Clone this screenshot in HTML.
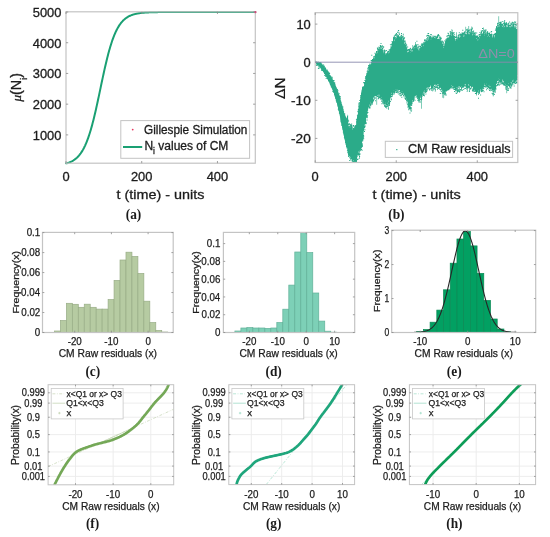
<!DOCTYPE html>
<html><head><meta charset="utf-8"><style>
html,body{margin:0;padding:0;background:#fff;}
svg{display:block;} text{stroke:#1c1c1c;stroke-width:0.3px;}
</style></head><body>
<svg width="550" height="537" viewBox="0 0 550 537" font-family="Liberation Sans, sans-serif">
<rect width="550" height="537" fill="#fff"/>
<polyline points="66.00,163.20 66.47,163.20 66.95,163.20 67.42,163.07 67.90,162.92 68.37,162.76 68.85,162.59 69.32,162.42 69.80,162.23 70.27,162.03 70.74,161.82 71.22,161.59 71.69,161.36 72.17,161.11 72.64,160.84 73.12,160.56 73.59,160.27 74.07,159.96 74.54,159.63 75.01,159.28 75.49,158.91 75.96,158.53 76.44,158.12 76.91,157.69 77.39,157.23 77.86,156.75 78.34,156.25 78.81,155.72 79.28,155.16 79.76,154.57 80.23,153.96 80.71,153.31 81.18,152.62 81.66,151.91 82.13,151.15 82.61,150.36 83.08,149.54 83.55,148.67 84.03,147.76 84.50,146.81 84.98,145.82 85.45,144.78 85.93,143.70 86.40,142.57 86.88,141.39 87.35,140.17 87.82,138.89 88.30,137.57 88.77,136.19 89.25,134.77 89.72,133.29 90.20,131.76 90.67,130.18 91.15,128.55 91.62,126.87 92.09,125.14 92.57,123.36 93.04,121.53 93.52,119.66 93.99,117.74 94.47,115.78 94.94,113.77 95.42,111.73 95.89,109.66 96.36,107.54 96.84,105.40 97.31,103.23 97.79,101.04 98.26,98.83 98.74,96.59 99.21,94.35 99.68,92.10 100.16,89.84 100.63,87.58 101.11,85.32 101.58,83.06 102.06,80.82 102.53,78.59 103.01,76.38 103.48,74.19 103.95,72.02 104.43,69.88 104.90,67.77 105.38,65.70 105.85,63.66 106.33,61.66 106.80,59.70 107.28,57.79 107.75,55.91 108.22,54.09 108.70,52.32 109.17,50.59 109.65,48.91 110.12,47.29 110.60,45.71 111.07,44.19 111.55,42.71 112.02,41.29 112.49,39.92 112.97,38.60 113.44,37.33 113.92,36.11 114.39,34.94 114.87,33.81 115.34,32.73 115.82,31.70 116.29,30.71 116.76,29.76 117.24,28.86 117.71,27.99 118.19,27.17 118.66,26.38 119.14,25.63 119.61,24.92 120.09,24.24 120.56,23.59 121.03,22.98 121.51,22.39 121.98,21.83 122.46,21.31 122.93,20.80 123.41,20.33 123.88,19.88 124.36,19.45 124.83,19.04 125.30,18.66 125.78,18.29 126.25,17.94 126.73,17.62 127.20,17.31 127.68,17.01 128.15,16.74 128.63,16.47 129.10,16.22 129.57,15.99 130.05,15.77 130.52,15.56 131.00,15.36 131.47,15.17 131.95,14.99 132.42,14.82 132.90,14.66 133.37,14.51 133.84,14.37 134.32,14.24 134.79,14.11 135.27,13.99 135.74,13.88 136.22,13.77 136.69,13.67 137.17,13.58 137.64,13.49 138.11,13.41 138.59,13.33 139.06,13.25 139.54,13.18 140.01,13.11 140.49,13.05 140.96,12.99 141.44,12.93 141.91,12.88 142.38,12.83 142.86,12.78 143.33,12.74 143.81,12.70 144.28,12.66 144.76,12.62 145.23,12.58 145.71,12.55 146.18,12.52 146.65,12.49 147.13,12.46 147.60,12.44 148.08,12.41 148.55,12.39 149.03,12.37 149.50,12.34 149.98,12.32 150.45,12.31 150.92,12.29 151.40,12.27 151.87,12.26 152.35,12.24 152.82,12.23 153.30,12.22 153.77,12.20 154.25,12.19 154.72,12.18 155.19,12.17 155.67,12.16 156.14,12.15 156.62,12.14 157.09,12.13 157.57,12.13 158.04,12.12 158.52,12.11 158.99,12.11 159.46,12.10 159.94,12.09 160.41,12.09 160.89,12.08 161.36,12.08 161.84,12.07 162.31,12.07 162.78,12.07 163.26,12.06 163.73,12.06 164.21,12.06 164.68,12.05 165.16,12.05 165.63,12.05 166.11,12.04 166.58,12.04 167.05,12.04 167.53,12.04 168.00,12.03 168.48,12.03 168.95,12.03 169.43,12.03 169.90,12.03 170.38,12.03 170.85,12.02 171.32,12.02 171.80,12.02 172.27,12.02 172.75,12.02 173.22,12.02 173.70,12.02 174.17,12.02 174.65,12.02 175.12,12.01 175.59,12.01 176.07,12.01 176.54,12.01 177.02,12.01 177.49,12.01 177.97,12.01 178.44,12.01 178.92,12.01 179.39,12.01 179.86,12.01 180.34,12.01 180.81,12.01 181.29,12.01 181.76,12.01 182.24,12.01 182.71,12.01 183.19,12.01 183.66,12.00 184.13,12.00 184.61,12.00 185.08,12.00 185.56,12.00 186.03,12.00 186.51,12.00 186.98,12.00 187.46,12.00 187.93,12.00 188.40,12.00 188.88,12.00 189.35,12.00 189.83,12.00 190.30,12.00 190.78,12.00 191.25,12.00 191.73,12.00 192.20,12.00 192.67,12.00 193.15,12.00 193.62,12.00 194.10,12.00 194.57,12.00 195.05,12.00 195.52,12.00 196.00,12.00 196.47,12.00 196.94,12.00 197.42,12.00 197.89,12.00 198.37,12.00 198.84,12.00 199.32,12.00 199.79,12.00 200.27,12.00 200.74,12.00 201.21,12.00 201.69,12.00 202.16,12.00 202.64,12.00 203.11,12.00 203.59,12.00 204.06,12.00 204.54,12.00 205.01,12.00 205.48,12.00 205.96,12.00 206.43,12.00 206.91,12.00 207.38,12.00 207.86,12.00 208.33,12.00 208.81,12.00 209.28,12.00 209.75,12.00 210.23,12.00 210.70,12.00 211.18,12.00 211.65,12.00 212.13,12.00 212.60,12.00 213.08,12.00 213.55,12.00 214.02,12.00 214.50,12.00 214.97,12.00 215.45,12.00 215.92,12.00 216.40,12.00 216.87,12.00 217.35,12.00 217.82,12.00 218.29,12.00 218.77,12.00 219.24,12.00 219.72,12.00 220.19,12.00 220.67,12.00 221.14,12.00 221.62,12.00 222.09,12.00 222.56,12.00 223.04,12.00 223.51,12.00 223.99,12.00 224.46,12.00 224.94,12.00 225.41,12.00 225.88,12.00 226.36,12.00 226.83,12.00 227.31,12.00 227.78,12.00 228.26,12.00 228.73,12.00 229.21,12.00 229.68,12.00 230.15,12.00 230.63,12.00 231.10,12.00 231.58,12.00 232.05,12.00 232.53,12.00 233.00,12.00 233.48,12.00 233.95,12.00 234.42,12.00 234.90,12.00 235.37,12.00 235.85,12.00 236.32,12.00 236.80,12.00 237.27,12.00 237.75,12.00 238.22,12.00 238.69,12.00 239.17,12.00 239.64,12.00 240.12,12.00 240.59,12.00 241.07,12.00 241.54,12.00 242.02,12.00 242.49,12.00 242.96,12.00 243.44,12.00 243.91,12.00 244.39,12.00 244.86,12.00 245.34,12.00 245.81,12.00 246.29,12.00 246.76,12.00 247.23,12.00 247.71,12.00 248.18,12.00 248.66,12.00 249.13,12.00 249.61,12.00 250.08,12.00 250.56,12.00 251.03,12.00 251.50,12.00 251.98,12.00 252.45,12.00 252.93,12.00 253.40,12.00 253.88,12.00 254.35,12.00 254.83,12.00 255.30,12.00" fill="none" stroke="#1aa073" stroke-width="2.0" stroke-linejoin="round" stroke-linecap="round" />
<rect x="66.00" y="11.80" width="189.30" height="151.40" fill="none" stroke="#c4c4c4" stroke-width="1.2"/>
<circle cx="255.4" cy="12.2" r="1.1" fill="#e0407a"/>
<line x1="66.00" y1="163.20" x2="66.00" y2="161.00" stroke="#8a8a8a" stroke-width="0.8" />
<line x1="66.00" y1="11.80" x2="66.00" y2="14.00" stroke="#8a8a8a" stroke-width="0.8" />
<line x1="141.72" y1="163.20" x2="141.72" y2="161.00" stroke="#8a8a8a" stroke-width="0.8" />
<line x1="141.72" y1="11.80" x2="141.72" y2="14.00" stroke="#8a8a8a" stroke-width="0.8" />
<line x1="217.44" y1="163.20" x2="217.44" y2="161.00" stroke="#8a8a8a" stroke-width="0.8" />
<line x1="217.44" y1="11.80" x2="217.44" y2="14.00" stroke="#8a8a8a" stroke-width="0.8" />
<line x1="66.00" y1="134.88" x2="68.20" y2="134.88" stroke="#8a8a8a" stroke-width="0.8" />
<line x1="255.30" y1="134.88" x2="253.10" y2="134.88" stroke="#8a8a8a" stroke-width="0.8" />
<line x1="66.00" y1="104.16" x2="68.20" y2="104.16" stroke="#8a8a8a" stroke-width="0.8" />
<line x1="255.30" y1="104.16" x2="253.10" y2="104.16" stroke="#8a8a8a" stroke-width="0.8" />
<line x1="66.00" y1="73.44" x2="68.20" y2="73.44" stroke="#8a8a8a" stroke-width="0.8" />
<line x1="255.30" y1="73.44" x2="253.10" y2="73.44" stroke="#8a8a8a" stroke-width="0.8" />
<line x1="66.00" y1="42.72" x2="68.20" y2="42.72" stroke="#8a8a8a" stroke-width="0.8" />
<line x1="255.30" y1="42.72" x2="253.10" y2="42.72" stroke="#8a8a8a" stroke-width="0.8" />
<line x1="66.00" y1="12.00" x2="68.20" y2="12.00" stroke="#8a8a8a" stroke-width="0.8" />
<line x1="255.30" y1="12.00" x2="253.10" y2="12.00" stroke="#8a8a8a" stroke-width="0.8" />
<text x="61.45" y="139.88" font-size="12.4" textLength="28.69" lengthAdjust="spacingAndGlyphs" text-anchor="end" fill="#1c1c1c" >1000</text>
<text x="61.45" y="109.16" font-size="12.4" textLength="28.69" lengthAdjust="spacingAndGlyphs" text-anchor="end" fill="#1c1c1c" >2000</text>
<text x="61.45" y="78.44" font-size="12.4" textLength="28.69" lengthAdjust="spacingAndGlyphs" text-anchor="end" fill="#1c1c1c" >3000</text>
<text x="61.45" y="47.72" font-size="12.4" textLength="28.69" lengthAdjust="spacingAndGlyphs" text-anchor="end" fill="#1c1c1c" >4000</text>
<text x="61.45" y="17.00" font-size="12.4" textLength="28.69" lengthAdjust="spacingAndGlyphs" text-anchor="end" fill="#1c1c1c" >5000</text>
<text x="66.00" y="181.00" font-size="12.4" textLength="7.17" lengthAdjust="spacingAndGlyphs" text-anchor="middle" fill="#1c1c1c" >0</text>
<text x="141.72" y="181.00" font-size="12.4" textLength="21.52" lengthAdjust="spacingAndGlyphs" text-anchor="middle" fill="#1c1c1c" >200</text>
<text x="217.44" y="181.00" font-size="12.4" textLength="21.52" lengthAdjust="spacingAndGlyphs" text-anchor="middle" fill="#1c1c1c" >400</text>
<text x="116.58" y="198.90" font-size="13.2" textLength="87.75" lengthAdjust="spacingAndGlyphs" fill="#1c1c1c" font-family="Liberation Sans"  >t (time) - units</text>
<text transform="translate(21.0,101.6) rotate(-90)" font-size="14.3" fill="#1c1c1c"><tspan font-family="Liberation Serif" font-style="italic" font-size="13.2">μ</tspan><tspan>(N</tspan><tspan font-size="9.6" dy="6.0">i</tspan><tspan dy="-6.0">)</tspan></text>
<rect x="120.8" y="120.6" width="128.8" height="37.7" fill="#fff" stroke="#c4c4c4" stroke-width="1"/>
<circle cx="132.7" cy="129.6" r="0.9" fill="#e8365f"/>
<line x1="123.00" y1="147.00" x2="142.20" y2="147.00" stroke="#1aa073" stroke-width="2.0" />
<text x="144.01" y="133.80" font-size="12.0" textLength="103.38" lengthAdjust="spacingAndGlyphs" fill="#1c1c1c" font-family="Liberation Sans"  >Gillespie Simulation</text>
<text x="144.4" y="149.6" font-size="12.0" fill="#1c1c1c">N<tspan font-size="8.5" dy="4.2">i</tspan><tspan dy="-4.2"> values of CM</tspan></text>
<text x="133.50" y="219.10" font-size="14.7" textLength="15.60" lengthAdjust="spacingAndGlyphs" text-anchor="middle" font-family="Liberation Serif" font-weight="bold" fill="#1a1a1a" style="stroke:none">(a)</text>
<clipPath id="cb"><rect x="315.2" y="12.7" width="202.6" height="149.8"/></clipPath><g clip-path="url(#cb)">
<polygon points="315.0,62.2 315.5,62.3 316.0,62.5 316.5,62.6 317.0,62.8 317.5,62.9 318.0,63.0 318.5,63.2 319.0,63.3 319.5,63.5 320.0,63.6 320.5,64.1 321.0,64.6 321.5,65.1 322.0,65.6 322.5,66.1 323.0,66.6 323.5,67.1 324.0,67.6 324.5,68.1 325.0,68.6 325.5,69.3 326.0,70.0 326.5,70.7 327.0,71.4 327.5,72.1 328.0,72.8 328.5,73.5 329.0,74.2 329.5,74.9 330.0,75.6 330.5,76.5 331.0,77.3 331.5,78.2 332.0,79.1 332.5,80.0 333.0,80.8 333.5,81.7 334.0,82.6 334.5,83.8 335.0,85.1 335.5,86.3 336.0,87.6 336.5,88.8 337.0,90.1 337.5,91.6 338.0,93.1 338.5,94.6 339.0,96.1 339.5,97.6 340.0,99.3 340.5,101.0 341.0,102.7 341.5,104.4 342.0,106.1 342.5,108.0 343.0,109.8 343.5,111.7 344.0,113.6 344.5,114.8 345.0,116.1 345.5,117.3 346.0,118.6 346.5,119.8 347.0,123.5 347.5,124.8 348.0,126.0 348.5,126.8 349.0,127.5 349.5,128.2 350.0,129.0 350.5,129.2 351.0,129.5 351.5,129.8 352.0,130.0 352.5,130.2 353.0,130.5 353.5,130.0 354.0,129.5 354.5,129.0 355.0,127.9 355.5,126.8 356.0,125.7 356.5,122.5 357.0,119.4 357.5,116.2 358.0,113.0 358.5,109.9 359.0,106.7 359.5,104.3 360.0,102.0 360.5,99.6 361.0,97.2 361.5,94.9 362.0,92.5 362.5,90.9 363.0,89.2 363.5,87.6 364.0,85.9 364.5,84.2 365.0,82.3 365.5,80.5 366.0,78.7 366.5,77.0 367.0,75.3 367.5,73.6 368.0,71.9 368.5,70.6 369.0,69.6 369.5,68.6 370.0,67.6 370.5,66.6 371.0,65.6 371.5,64.6 372.0,63.6 372.5,62.6 373.0,61.6 373.5,60.6 374.0,59.6 374.5,58.7 375.0,57.7 375.5,56.7 376.0,55.7 376.5,54.7 377.0,53.7 377.5,52.7 378.0,51.7 378.5,50.7 379.0,49.7 379.5,48.7 380.0,49.1 380.5,49.4 381.0,49.8 381.5,50.1 382.0,50.4 382.5,50.8 383.0,51.8 383.5,52.8 384.0,53.8 384.5,54.7 385.0,55.7 385.5,56.7 386.0,56.6 386.5,56.3 387.0,56.0 387.5,55.7 388.0,55.4 388.5,55.0 389.0,54.1 389.5,52.7 390.0,51.3 390.5,50.0 391.0,48.6 391.5,47.2 392.0,46.1 392.5,45.1 393.0,44.1 393.5,43.1 394.0,42.1 394.5,41.1 395.0,40.4 395.5,40.2 396.0,39.9 396.5,39.7 397.0,39.4 397.5,39.2 398.0,38.9 398.5,38.7 399.0,38.5 399.5,38.8 400.0,39.0 400.5,39.3 401.0,39.5 401.5,39.8 402.0,40.0 402.5,40.3 403.0,40.5 403.5,42.0 404.0,43.5 404.5,45.0 405.0,46.5 405.5,48.0 406.0,49.5 406.5,51.0 407.0,52.5 407.5,52.8 408.0,52.8 408.5,52.8 409.0,52.8 409.5,52.8 410.0,52.8 410.5,52.8 411.0,52.8 411.5,52.5 412.0,51.9 412.5,51.4 413.0,50.9 413.5,50.3 414.0,49.8 414.5,49.2 415.0,48.7 415.5,49.0 416.0,49.4 416.5,49.7 417.0,50.1 417.5,50.4 418.0,50.7 418.5,51.1 419.0,51.4 419.5,51.0 420.0,50.4 420.5,49.9 421.0,49.3 421.5,48.7 422.0,48.1 422.5,47.5 423.0,46.9 423.5,46.2 424.0,45.5 424.5,44.7 425.0,44.0 425.5,43.2 426.0,42.5 426.5,41.7 427.0,41.0 427.5,40.5 428.0,40.5 428.5,40.5 429.0,40.5 429.5,40.5 430.0,40.5 430.5,40.5 431.0,40.5 431.5,40.5 432.0,40.5 432.5,40.5 433.0,40.5 433.5,40.5 434.0,40.5 434.5,40.5 435.0,40.5 435.5,40.5 436.0,40.5 436.5,40.5 437.0,40.5 437.5,40.5 438.0,40.5 438.5,40.5 439.0,40.5 439.5,40.5 440.0,41.3 440.5,42.3 441.0,43.3 441.5,44.3 442.0,45.3 442.5,46.3 443.0,47.3 443.5,48.3 444.0,48.0 444.5,46.7 445.0,45.5 445.5,44.2 446.0,43.0 446.5,41.7 447.0,40.5 447.5,39.2 448.0,38.4 448.5,38.1 449.0,37.9 449.5,37.6 450.0,37.4 450.5,37.1 451.0,36.9 451.5,36.6 452.0,36.6 452.5,37.3 453.0,38.1 453.5,38.8 454.0,39.6 454.5,40.3 455.0,41.1 455.5,41.8 456.0,42.6 456.5,42.1 457.0,41.6 457.5,41.1 458.0,40.6 458.5,40.1 459.0,39.6 459.5,39.1 460.0,38.6 460.5,38.3 461.0,38.0 461.5,37.8 462.0,37.5 462.5,37.2 463.0,37.0 463.5,36.7 464.0,36.5 464.5,36.2 465.0,36.0 465.5,35.7 466.0,35.5 466.5,35.2 467.0,35.0 467.5,34.7 468.0,34.5 468.5,34.4 469.0,34.5 469.5,34.6 470.0,34.7 470.5,34.7 471.0,34.8 471.5,34.9 472.0,35.0 472.5,35.3 473.0,35.9 473.5,36.6 474.0,37.3 474.5,37.9 475.0,38.6 475.5,39.3 476.0,40.0 476.5,40.6 477.0,41.3 477.5,41.4 478.0,40.6 478.5,39.9 479.0,39.1 479.5,38.4 480.0,37.6 480.5,36.9 481.0,36.1 481.5,35.5 482.0,35.5 482.5,35.5 483.0,35.5 483.5,35.5 484.0,35.5 484.5,35.5 485.0,35.5 485.5,35.5 486.0,35.8 486.5,36.0 487.0,36.3 487.5,36.5 488.0,36.8 488.5,37.0 489.0,37.3 489.5,37.5 490.0,37.8 490.5,38.0 491.0,38.3 491.5,38.5 492.0,38.8 492.5,39.0 493.0,39.3 493.5,39.5 494.0,38.7 494.5,37.2 495.0,35.7 495.5,34.2 496.0,32.7 496.5,31.2 497.0,29.7 497.5,28.2 498.0,27.3 498.5,27.3 499.0,27.3 499.5,27.3 500.0,27.3 500.5,27.3 501.0,27.3 501.5,27.3 502.0,27.3 502.5,27.3 503.0,27.3 503.5,27.3 504.0,27.3 504.5,27.3 505.0,27.3 505.5,27.3 506.0,27.3 506.5,27.3 507.0,27.3 507.5,27.3 508.0,27.3 508.5,27.3 509.0,27.3 509.5,27.3 510.0,27.3 510.5,27.3 511.0,27.3 511.5,27.3 512.0,27.3 512.5,27.3 513.0,27.3 513.5,27.3 514.0,27.3 514.5,27.5 515.0,27.8 515.5,28.1 516.0,28.4 516.5,28.7 517.0,28.9 517.5,29.2 517.5,74.9 517.0,75.5 516.5,76.0 516.0,76.6 515.5,77.1 515.0,77.7 514.5,78.3 514.0,78.8 513.5,79.3 513.0,79.8 512.5,80.3 512.0,80.9 511.5,81.4 511.0,81.9 510.5,82.4 510.0,82.8 509.5,83.1 509.0,83.3 508.5,83.6 508.0,83.8 507.5,84.1 507.0,84.3 506.5,84.6 506.0,84.8 505.5,84.1 505.0,83.3 504.5,82.6 504.0,81.8 503.5,81.1 503.0,80.3 502.5,79.6 502.0,78.8 501.5,78.7 501.0,78.7 500.5,78.7 500.0,78.7 499.5,78.7 499.0,78.7 498.5,78.7 498.0,78.7 497.5,79.6 497.0,81.1 496.5,82.6 496.0,84.1 495.5,85.6 495.0,87.1 494.5,88.6 494.0,90.1 493.5,90.7 493.0,89.9 492.5,89.2 492.0,88.4 491.5,87.7 491.0,86.9 490.5,86.2 490.0,85.4 489.5,84.8 489.0,84.5 488.5,84.3 488.0,84.0 487.5,83.8 487.0,83.5 486.5,83.3 486.0,83.0 485.5,82.8 485.0,83.3 484.5,83.8 484.0,84.3 483.5,84.8 483.0,85.3 482.5,85.8 482.0,86.3 481.5,86.8 481.0,87.3 480.5,87.8 480.0,88.3 479.5,88.8 479.0,89.3 478.5,89.8 478.0,90.3 477.5,90.8 477.0,90.7 476.5,90.2 476.0,89.7 475.5,89.2 475.0,88.7 474.5,88.2 474.0,87.7 473.5,87.2 473.0,86.7 472.5,86.2 472.0,85.8 471.5,85.4 471.0,85.0 470.5,84.7 470.0,84.3 469.5,84.0 469.0,83.6 468.5,83.2 468.0,83.0 467.5,83.2 467.0,83.3 466.5,83.4 466.0,83.5 465.5,83.7 465.0,83.8 464.5,83.9 464.0,84.0 463.5,84.3 463.0,84.5 462.5,84.7 462.0,84.9 461.5,85.1 461.0,85.3 460.5,85.5 460.0,85.8 459.5,86.0 459.0,86.3 458.5,86.5 458.0,86.8 457.5,87.0 457.0,87.3 456.5,87.5 456.0,87.8 455.5,87.3 455.0,86.8 454.5,86.3 454.0,85.8 453.5,85.3 453.0,84.8 452.5,84.3 452.0,83.8 451.5,83.9 451.0,84.1 450.5,84.4 450.0,84.6 449.5,84.9 449.0,85.1 448.5,85.4 448.0,85.6 447.5,86.2 447.0,86.9 446.5,87.7 446.0,88.4 445.5,89.2 445.0,89.9 444.5,90.7 444.0,91.4 443.5,91.5 443.0,90.5 442.5,89.5 442.0,88.5 441.5,87.5 441.0,86.5 440.5,85.5 440.0,84.5 439.5,83.7 439.0,83.7 438.5,83.7 438.0,83.7 437.5,83.7 437.0,83.7 436.5,83.7 436.0,83.7 435.5,83.7 435.0,83.9 434.5,84.2 434.0,84.4 433.5,84.7 433.0,84.9 432.5,85.2 432.0,85.4 431.5,85.7 431.0,85.5 430.5,85.3 430.0,85.0 429.5,84.8 429.0,84.5 428.5,84.3 428.0,84.0 427.5,83.8 427.0,84.3 426.5,85.3 426.0,86.3 425.5,87.3 425.0,88.3 424.5,89.3 424.0,90.3 423.5,91.3 423.0,92.2 422.5,92.9 422.0,93.7 421.5,94.4 421.0,95.2 420.5,95.9 420.0,96.7 419.5,97.4 419.0,97.9 418.5,97.3 418.0,96.7 417.5,96.0 417.0,95.4 416.5,94.8 416.0,94.2 415.5,93.6 415.0,93.0 414.5,94.2 414.0,95.4 413.5,96.6 413.0,97.7 412.5,98.9 412.0,100.1 411.5,101.3 411.0,102.6 410.5,104.2 410.0,105.8 409.5,107.4 409.0,107.5 408.5,105.5 408.0,103.6 407.5,101.6 407.0,99.8 406.5,98.8 406.0,97.8 405.5,96.8 405.0,95.9 404.5,94.9 404.0,93.9 403.5,92.9 403.0,91.9 402.5,91.6 402.0,91.4 401.5,91.1 401.0,90.9 400.5,90.6 400.0,90.4 399.5,90.1 399.0,89.9 398.5,89.6 398.0,89.4 397.5,89.1 397.0,88.9 396.5,88.6 396.0,88.4 395.5,88.1 395.0,87.9 394.5,88.2 394.0,88.9 393.5,89.6 393.0,90.2 392.5,90.9 392.0,91.6 391.5,92.6 391.0,94.1 390.5,95.6 390.0,97.1 389.5,98.6 389.0,100.1 388.5,101.1 388.0,101.5 387.5,101.8 387.0,102.1 386.5,102.4 386.0,102.7 385.5,102.8 385.0,102.0 384.5,101.2 384.0,100.4 383.5,99.6 383.0,98.8 382.5,98.0 382.0,97.2 381.5,96.5 381.0,95.8 380.5,95.0 380.0,94.2 379.5,93.5 379.0,93.2 378.5,93.0 378.0,92.7 377.5,92.5 377.0,92.2 376.5,92.0 376.0,92.5 375.5,93.2 375.0,94.0 374.5,94.7 374.0,95.5 373.5,96.2 373.0,97.0 372.5,97.7 372.0,98.6 371.5,99.6 371.0,100.5 370.5,101.5 370.0,102.5 369.5,103.5 369.0,104.4 368.5,105.4 368.0,106.9 367.5,109.1 367.0,111.4 366.5,113.6 366.0,116.0 365.5,118.3 365.0,120.7 364.5,123.1 364.0,125.8 363.5,129.9 363.0,133.9 362.5,138.0 362.0,142.0 361.5,143.3 361.0,144.7 360.5,146.0 360.0,147.3 359.5,148.7 359.0,150.0 358.5,151.3 358.0,152.7 357.5,154.0 357.0,155.3 356.5,156.7 356.0,158.0 355.5,158.7 355.0,159.3 354.5,160.0 354.0,160.0 353.5,160.0 353.0,160.0 352.5,159.3 352.0,158.7 351.5,158.0 351.0,157.3 350.5,156.7 350.0,156.0 349.5,154.8 349.0,153.5 348.5,152.2 348.0,151.0 347.5,149.0 347.0,147.0 346.5,147.4 346.0,145.4 345.5,143.2 345.0,140.9 344.5,138.7 344.0,136.4 343.5,133.9 343.0,131.4 342.5,128.9 342.0,126.4 341.5,124.0 341.0,121.6 340.5,119.2 340.0,116.8 339.5,114.4 339.0,112.2 338.5,110.0 338.0,107.8 337.5,105.6 337.0,103.4 336.5,101.7 336.0,100.1 335.5,98.4 335.0,96.7 334.5,95.1 334.0,93.4 333.5,92.2 333.0,90.9 332.5,89.7 332.0,88.4 331.5,87.2 331.0,85.9 330.5,84.7 330.0,83.4 329.5,82.5 329.0,81.6 328.5,80.7 328.0,79.8 327.5,78.9 327.0,78.0 326.5,77.1 326.0,76.2 325.5,75.3 325.0,74.4 324.5,73.7 324.0,72.9 323.5,72.2 323.0,71.4 322.5,70.7 322.0,69.9 321.5,69.2 321.0,68.4 320.5,67.7 320.0,66.9 319.5,66.5 319.0,66.0 318.5,65.6 318.0,65.1 317.5,64.7 317.0,64.2 316.5,63.7 316.0,63.3 315.5,62.9 315.0,62.4" fill="#2bab89"/>
<path d="M315.0 61.6h.6V63.1h-.6zM315.5 61.6h.6V63.0h-.6zM316.0 61.7h.6V63.4h-.6zM316.5 62.1h.6V65.0h-.6zM317.0 61.9h.6V64.5h-.6zM317.5 62.5h.6V65.4h-.6zM318.0 62.5h.6V65.2h-.6zM318.5 62.6h.6V66.5h-.6zM319.0 62.0h.6V66.4h-.6zM319.5 61.9h.6V66.4h-.6zM320.0 62.1h.6V67.4h-.6zM320.5 62.9h.6V68.4h-.6zM321.0 64.1h.6V68.9h-.6zM321.5 63.2h.6V69.5h-.6zM322.0 65.0h.6V70.6h-.6zM322.5 64.7h.6V71.0h-.6zM323.0 65.5h.6V71.6h-.6zM323.5 67.0h.6V72.3h-.6zM324.0 67.0h.6V73.9h-.6zM324.5 67.2h.6V74.2h-.6zM325.0 68.1h.6V75.0h-.6zM325.5 68.1h.6V75.9h-.6zM326.0 70.1h.6V76.0h-.6zM326.5 70.5h.6V77.8h-.6zM327.0 70.5h.6V79.6h-.6zM327.5 71.9h.6V78.9h-.6zM328.0 72.2h.6V80.7h-.6zM328.5 72.8h.6V81.6h-.6zM329.0 73.6h.6V82.5h-.6zM329.5 75.0h.6V82.8h-.6zM330.0 75.1h.6V83.8h-.6zM330.5 75.9h.6V84.7h-.6zM331.0 76.5h.6V86.4h-.6zM331.5 78.1h.6V88.3h-.6zM332.0 77.8h.6V88.6h-.6zM332.5 79.7h.6V89.3h-.6zM333.0 80.0h.6V91.5h-.6zM333.5 81.8h.6V93.1h-.6zM334.0 81.8h.6V93.8h-.6zM334.5 83.1h.6V96.4h-.6zM335.0 84.3h.6V97.2h-.6zM335.5 85.9h.6V98.9h-.6zM336.0 86.9h.6V100.1h-.6zM336.5 88.2h.6V102.1h-.6zM337.0 90.1h.6V104.3h-.6zM337.5 91.0h.6V106.5h-.6zM338.0 92.3h.6V108.9h-.6zM338.5 94.0h.6V110.9h-.6zM339.0 94.9h.6V113.0h-.6zM339.5 96.2h.6V114.0h-.6zM340.0 98.5h.6V117.0h-.6zM340.5 100.5h.6V120.9h-.6zM341.0 101.7h.6V121.9h-.6zM341.5 103.9h.6V124.8h-.6zM342.0 105.4h.6V126.9h-.6zM342.5 107.7h.6V129.8h-.6zM343.0 108.7h.6V132.0h-.6zM343.5 111.1h.6V134.0h-.6zM344.0 113.1h.6V136.6h-.6zM344.5 114.7h.6V139.3h-.6zM345.0 115.5h.6V141.2h-.6zM345.5 116.7h.6V142.8h-.6zM346.0 117.4h.6V146.2h-.6zM346.5 118.2h.6V148.4h-.6zM347.0 116.1h.6V147.7h-.6zM347.5 114.7h.6V153.1h-.6zM348.0 123.1h.6V154.2h-.6zM348.5 126.3h.6V154.1h-.6zM349.0 125.8h.6V156.4h-.6zM349.5 127.8h.6V156.2h-.6zM350.0 124.8h.6V160.5h-.6zM350.5 127.6h.6V156.7h-.6zM351.0 126.9h.6V159.4h-.6zM351.5 123.3h.6V159.5h-.6zM352.0 129.4h.6V160.0h-.6zM352.5 129.4h.6V162.0h-.6zM353.0 127.9h.6V162.4h-.6zM353.5 128.4h.6V160.3h-.6zM354.0 128.3h.6V161.5h-.6zM354.5 126.5h.6V160.9h-.6zM355.0 126.9h.6V160.8h-.6zM355.5 125.1h.6V163.1h-.6zM356.0 126.4h.6V160.0h-.6zM356.5 119.6h.6V159.8h-.6zM357.0 116.4h.6V157.1h-.6zM357.5 115.1h.6V153.5h-.6zM358.0 111.3h.6V153.8h-.6zM358.5 102.7h.6V151.1h-.6zM359.0 105.8h.6V158.9h-.6zM359.5 101.9h.6V149.9h-.6zM360.0 100.2h.6V149.0h-.6zM360.5 96.5h.6V148.2h-.6zM361.0 92.1h.6V147.9h-.6zM361.5 92.7h.6V146.4h-.6zM362.0 86.8h.6V140.8h-.6zM362.5 88.3h.6V141.8h-.6zM363.0 86.2h.6V138.3h-.6zM363.5 86.7h.6V130.7h-.6zM364.0 84.5h.6V127.6h-.6zM364.5 81.9h.6V124.6h-.6zM365.0 80.6h.6V124.1h-.6zM365.5 77.8h.6V123.7h-.6zM366.0 75.2h.6V117.3h-.6zM366.5 72.7h.6V117.6h-.6zM367.0 74.3h.6V114.2h-.6zM367.5 69.2h.6V110.8h-.6zM368.0 70.7h.6V107.7h-.6zM368.5 70.4h.6V107.1h-.6zM369.0 63.5h.6V106.4h-.6zM369.5 64.7h.6V104.6h-.6zM370.0 65.3h.6V105.2h-.6zM370.5 63.6h.6V101.8h-.6zM371.0 63.3h.6V104.6h-.6zM371.5 59.9h.6V102.2h-.6zM372.0 58.9h.6V104.8h-.6zM372.5 61.0h.6V102.0h-.6zM373.0 55.9h.6V97.0h-.6zM373.5 58.8h.6V98.5h-.6zM374.0 57.8h.6V97.1h-.6zM374.5 59.5h.6V95.5h-.6zM375.0 53.3h.6V96.0h-.6zM375.5 54.1h.6V96.3h-.6zM376.0 50.9h.6V95.8h-.6zM376.5 53.7h.6V104.8h-.6zM377.0 53.8h.6V96.6h-.6zM377.5 51.4h.6V94.6h-.6zM378.0 50.7h.6V94.1h-.6zM378.5 46.4h.6V94.8h-.6zM379.0 49.7h.6V96.4h-.6zM379.5 47.4h.6V94.8h-.6zM380.0 45.8h.6V96.9h-.6zM380.5 48.6h.6V97.5h-.6zM381.0 49.0h.6V98.2h-.6zM381.5 45.7h.6V97.5h-.6zM382.0 48.0h.6V101.7h-.6zM382.5 49.7h.6V99.0h-.6zM383.0 54.0h.6V102.5h-.6zM383.5 51.1h.6V101.2h-.6zM384.0 49.6h.6V105.5h-.6zM384.5 51.8h.6V104.0h-.6zM385.0 53.4h.6V102.4h-.6zM385.5 55.5h.6V105.5h-.6zM386.0 53.6h.6V107.3h-.6zM386.5 54.3h.6V104.5h-.6zM387.0 51.7h.6V104.7h-.6zM387.5 53.7h.6V102.8h-.6zM388.0 53.8h.6V109.9h-.6zM388.5 51.5h.6V99.8h-.6zM389.0 53.0h.6V104.3h-.6zM389.5 50.0h.6V103.7h-.6zM390.0 48.8h.6V97.7h-.6zM390.5 46.2h.6V97.5h-.6zM391.0 46.7h.6V95.6h-.6zM391.5 43.9h.6V92.5h-.6zM392.0 42.2h.6V94.7h-.6zM392.5 42.5h.6V92.8h-.6zM393.0 37.3h.6V90.7h-.6zM393.5 38.0h.6V91.2h-.6zM394.0 41.6h.6V94.6h-.6zM394.5 36.3h.6V90.3h-.6zM395.0 38.9h.6V89.3h-.6zM395.5 37.7h.6V91.1h-.6zM396.0 39.0h.6V92.8h-.6zM396.5 36.7h.6V89.8h-.6zM397.0 35.5h.6V89.2h-.6zM397.5 37.2h.6V90.8h-.6zM398.0 37.6h.6V90.0h-.6zM398.5 35.3h.6V90.9h-.6zM399.0 36.9h.6V89.6h-.6zM399.5 36.6h.6V89.5h-.6zM400.0 37.8h.6V90.9h-.6zM400.5 35.7h.6V93.9h-.6zM401.0 35.6h.6V91.9h-.6zM401.5 36.6h.6V91.7h-.6zM402.0 38.9h.6V92.7h-.6zM402.5 40.6h.6V90.9h-.6zM403.0 35.6h.6V92.6h-.6zM403.5 38.2h.6V96.5h-.6zM404.0 42.5h.6V94.0h-.6zM404.5 44.1h.6V95.0h-.6zM405.0 45.1h.6V98.2h-.6zM405.5 44.8h.6V96.0h-.6zM406.0 47.3h.6V97.0h-.6zM406.5 44.2h.6V98.0h-.6zM407.0 51.3h.6V100.3h-.6zM407.5 52.6h.6V102.3h-.6zM408.0 52.1h.6V107.1h-.6zM408.5 52.2h.6V109.9h-.6zM409.0 50.3h.6V108.9h-.6zM409.5 48.7h.6V108.6h-.6zM410.0 47.8h.6V110.8h-.6zM410.5 52.7h.6V105.3h-.6zM411.0 50.1h.6V106.1h-.6zM411.5 51.8h.6V104.3h-.6zM412.0 52.0h.6V100.5h-.6zM412.5 45.0h.6V100.8h-.6zM413.0 49.7h.6V101.5h-.6zM413.5 47.9h.6V101.7h-.6zM414.0 48.2h.6V99.8h-.6zM414.5 46.1h.6V96.6h-.6zM415.0 42.1h.6V95.0h-.6zM415.5 47.6h.6V96.3h-.6zM416.0 47.8h.6V95.8h-.6zM416.5 45.0h.6V95.6h-.6zM417.0 48.9h.6V96.1h-.6zM417.5 47.1h.6V98.9h-.6zM418.0 50.2h.6V97.9h-.6zM418.5 49.1h.6V102.4h-.6zM419.0 50.2h.6V99.6h-.6zM419.5 47.7h.6V99.7h-.6zM420.0 46.1h.6V96.9h-.6zM420.5 47.6h.6V95.4h-.6zM421.0 47.1h.6V108.8h-.6zM421.5 43.7h.6V100.3h-.6zM422.0 43.9h.6V96.8h-.6zM422.5 45.8h.6V93.5h-.6zM423.0 45.4h.6V91.4h-.6zM423.5 46.5h.6V94.3h-.6zM424.0 42.1h.6V91.3h-.6zM424.5 42.9h.6V90.5h-.6zM425.0 41.6h.6V92.9h-.6zM425.5 40.1h.6V92.8h-.6zM426.0 38.1h.6V87.5h-.6zM426.5 40.3h.6V87.5h-.6zM427.0 41.0h.6V90.2h-.6zM427.5 37.7h.6V86.4h-.6zM428.0 39.6h.6V87.2h-.6zM428.5 36.1h.6V87.0h-.6zM429.0 35.3h.6V87.6h-.6zM429.5 36.7h.6V86.9h-.6zM430.0 39.2h.6V84.7h-.6zM430.5 39.5h.6V86.3h-.6zM431.0 38.6h.6V88.1h-.6zM431.5 39.3h.6V88.0h-.6zM432.0 39.5h.6V88.4h-.6zM432.5 38.1h.6V91.4h-.6zM433.0 37.0h.6V86.3h-.6zM433.5 38.5h.6V87.9h-.6zM434.0 38.3h.6V84.4h-.6zM434.5 38.1h.6V85.2h-.6zM435.0 37.5h.6V84.6h-.6zM435.5 39.0h.6V86.7h-.6zM436.0 38.2h.6V85.2h-.6zM436.5 38.3h.6V85.4h-.6zM437.0 38.5h.6V90.0h-.6zM437.5 39.0h.6V83.9h-.6zM438.0 38.7h.6V85.5h-.6zM438.5 38.8h.6V84.2h-.6zM439.0 39.8h.6V87.9h-.6zM439.5 36.8h.6V87.7h-.6zM440.0 40.0h.6V87.7h-.6zM440.5 40.5h.6V88.0h-.6zM441.0 41.6h.6V89.4h-.6zM441.5 41.9h.6V90.4h-.6zM442.0 44.0h.6V88.1h-.6zM442.5 42.5h.6V97.7h-.6zM443.0 45.3h.6V91.5h-.6zM443.5 48.5h.6V98.3h-.6zM444.0 47.4h.6V92.2h-.6zM444.5 46.0h.6V92.4h-.6zM445.0 39.3h.6V93.1h-.6zM445.5 41.2h.6V91.5h-.6zM446.0 39.4h.6V91.1h-.6zM446.5 39.7h.6V90.0h-.6zM447.0 37.5h.6V90.6h-.6zM447.5 37.7h.6V89.5h-.6zM448.0 37.4h.6V89.6h-.6zM448.5 37.3h.6V90.4h-.6zM449.0 37.0h.6V88.4h-.6zM449.5 35.8h.6V88.9h-.6zM450.0 32.2h.6V88.3h-.6zM450.5 35.1h.6V87.9h-.6zM451.0 35.9h.6V86.6h-.6zM451.5 32.6h.6V85.1h-.6zM452.0 32.2h.6V88.6h-.6zM452.5 32.1h.6V86.0h-.6zM453.0 36.9h.6V86.4h-.6zM453.5 36.5h.6V89.9h-.6zM454.0 38.2h.6V87.0h-.6zM454.5 35.6h.6V88.6h-.6zM455.0 39.0h.6V91.6h-.6zM455.5 40.7h.6V90.6h-.6zM456.0 32.2h.6V90.6h-.6zM456.5 39.0h.6V86.5h-.6zM457.0 38.0h.6V93.2h-.6zM457.5 39.3h.6V86.3h-.6zM458.0 37.0h.6V86.5h-.6zM458.5 34.1h.6V86.5h-.6zM459.0 37.6h.6V90.5h-.6zM459.5 37.6h.6V85.9h-.6zM460.0 35.5h.6V87.4h-.6zM460.5 37.6h.6V87.0h-.6zM461.0 34.1h.6V90.4h-.6zM461.5 34.4h.6V86.4h-.6zM462.0 35.1h.6V87.3h-.6zM462.5 32.4h.6V86.7h-.6zM463.0 36.4h.6V87.0h-.6zM463.5 36.6h.6V88.0h-.6zM464.0 32.5h.6V86.1h-.6zM464.5 37.0h.6V84.1h-.6zM465.0 34.7h.6V84.4h-.6zM465.5 26.8h.6V83.8h-.6zM466.0 33.7h.6V85.6h-.6zM466.5 34.6h.6V89.9h-.6zM467.0 31.0h.6V91.8h-.6zM467.5 28.6h.6V88.0h-.6zM468.0 34.2h.6V84.1h-.6zM468.5 25.9h.6V84.4h-.6zM469.0 32.8h.6V85.6h-.6zM469.5 34.4h.6V90.3h-.6zM470.0 32.9h.6V86.3h-.6zM470.5 32.0h.6V86.0h-.6zM471.0 32.3h.6V87.9h-.6zM471.5 26.4h.6V87.2h-.6zM472.0 32.8h.6V86.6h-.6zM472.5 37.0h.6V87.2h-.6zM473.0 32.2h.6V90.3h-.6zM473.5 34.3h.6V91.3h-.6zM474.0 33.2h.6V89.8h-.6zM474.5 35.0h.6V89.5h-.6zM475.0 32.4h.6V91.7h-.6zM475.5 36.0h.6V90.2h-.6zM476.0 35.4h.6V95.5h-.6zM476.5 39.1h.6V94.2h-.6zM477.0 40.4h.6V91.5h-.6zM477.5 39.6h.6V92.4h-.6zM478.0 40.8h.6V93.1h-.6zM478.5 38.6h.6V90.6h-.6zM479.0 34.0h.6V91.9h-.6zM479.5 38.7h.6V91.5h-.6zM480.0 36.6h.6V88.9h-.6zM480.5 35.1h.6V88.5h-.6zM481.0 33.5h.6V92.2h-.6zM481.5 31.1h.6V90.0h-.6zM482.0 33.0h.6V90.6h-.6zM482.5 34.0h.6V88.3h-.6zM483.0 27.4h.6V87.3h-.6zM483.5 32.1h.6V87.3h-.6zM484.0 33.2h.6V85.7h-.6zM484.5 35.8h.6V82.7h-.6zM485.0 33.3h.6V85.2h-.6zM485.5 32.1h.6V88.0h-.6zM486.0 32.0h.6V86.5h-.6zM486.5 35.2h.6V83.7h-.6zM487.0 31.0h.6V87.0h-.6zM487.5 38.4h.6V87.8h-.6zM488.0 35.4h.6V86.0h-.6zM488.5 35.7h.6V84.9h-.6zM489.0 36.7h.6V88.7h-.6zM489.5 32.3h.6V84.6h-.6zM490.0 33.9h.6V85.6h-.6zM490.5 34.8h.6V91.3h-.6zM491.0 36.5h.6V88.0h-.6zM491.5 33.3h.6V88.6h-.6zM492.0 36.7h.6V90.6h-.6zM492.5 37.9h.6V90.7h-.6zM493.0 34.0h.6V91.2h-.6zM493.5 36.3h.6V90.3h-.6zM494.0 40.0h.6V90.8h-.6zM494.5 37.0h.6V90.5h-.6zM495.0 33.9h.6V91.9h-.6zM495.5 32.7h.6V89.4h-.6zM496.0 26.8h.6V83.6h-.6zM496.5 26.2h.6V84.0h-.6zM497.0 22.9h.6V81.0h-.6zM497.5 27.6h.6V80.8h-.6zM498.0 27.1h.6V80.5h-.6zM498.5 16.3h.6V78.2h-.6zM499.0 23.1h.6V79.1h-.6zM499.5 26.8h.6V82.3h-.6zM500.0 22.7h.6V81.0h-.6zM500.5 21.5h.6V85.1h-.6zM501.0 21.4h.6V82.2h-.6zM501.5 25.8h.6V80.5h-.6zM502.0 27.0h.6V77.0h-.6zM502.5 24.6h.6V80.7h-.6zM503.0 27.7h.6V81.3h-.6zM503.5 24.9h.6V80.3h-.6zM504.0 20.5h.6V82.9h-.6zM504.5 27.5h.6V86.0h-.6zM505.0 23.3h.6V83.4h-.6zM505.5 24.3h.6V89.8h-.6zM506.0 25.7h.6V85.0h-.6zM506.5 27.5h.6V93.2h-.6zM507.0 27.0h.6V86.1h-.6zM507.5 25.3h.6V84.8h-.6zM508.0 22.8h.6V83.0h-.6zM508.5 25.2h.6V86.1h-.6zM509.0 24.5h.6V86.9h-.6zM509.5 27.4h.6V86.0h-.6zM510.0 28.1h.6V81.8h-.6zM510.5 22.8h.6V84.5h-.6zM511.0 26.0h.6V82.1h-.6zM511.5 26.7h.6V83.2h-.6zM512.0 22.5h.6V80.1h-.6zM512.5 27.3h.6V83.5h-.6zM513.0 23.8h.6V80.7h-.6zM513.5 22.8h.6V79.8h-.6zM514.0 26.1h.6V81.2h-.6zM514.5 27.7h.6V84.2h-.6zM515.0 25.5h.6V82.6h-.6zM515.5 27.6h.6V80.6h-.6zM516.0 29.5h.6V80.9h-.6zM516.5 29.1h.6V78.5h-.6zM517.0 25.6h.6V79.5h-.6zM517.5 29.2h.6V75.0h-.6zM315.0 60.5h1v1h-1zM315.3 61.1h1v1h-1zM316.1 64.7h1v1h-1zM316.4 64.9h1v1h-1zM316.8 64.4h1v1h-1zM317.6 61.4h1v1h-1zM317.9 67.9h1v1h-1zM318.4 66.6h1v1h-1zM318.9 67.4h1v1h-1zM319.6 62.2h1v1h-1zM319.9 62.1h1v1h-1zM320.7 62.6h1v1h-1zM321.1 69.3h1v1h-1zM321.3 69.9h1v1h-1zM322.1 64.5h1v1h-1zM322.2 64.6h1v1h-1zM323.1 64.5h1v1h-1zM323.3 65.9h1v1h-1zM324.0 65.7h1v1h-1zM324.3 74.9h1v1h-1zM325.0 67.5h1v1h-1zM325.3 75.9h1v1h-1zM325.7 78.0h1v1h-1zM326.4 69.2h1v1h-1zM326.9 70.2h1v1h-1zM327.5 71.0h1v1h-1zM328.1 80.6h1v1h-1zM328.4 72.1h1v1h-1zM329.1 73.1h1v1h-1zM329.5 83.2h1v1h-1zM330.0 83.9h1v1h-1zM330.3 84.8h1v1h-1zM330.7 86.2h1v1h-1zM331.6 76.7h1v1h-1zM332.0 88.5h1v1h-1zM332.2 90.8h1v1h-1zM332.9 91.2h1v1h-1zM333.5 80.0h1v1h-1zM334.0 93.9h1v1h-1zM334.3 82.5h1v1h-1zM335.1 97.6h1v1h-1zM335.7 99.5h1v1h-1zM335.9 100.4h1v1h-1zM336.5 101.9h1v1h-1zM336.9 88.9h1v1h-1zM337.4 90.2h1v1h-1zM337.8 108.7h1v1h-1zM338.7 93.3h1v1h-1zM338.9 112.5h1v1h-1zM339.7 96.0h1v1h-1zM339.9 97.4h1v1h-1zM340.3 121.3h1v1h-1zM341.1 122.2h1v1h-1zM341.2 124.7h1v1h-1zM342.1 126.7h1v1h-1zM342.4 106.6h1v1h-1zM342.8 131.6h1v1h-1zM343.7 134.2h1v1h-1zM343.9 136.8h1v1h-1zM344.3 113.5h1v1h-1zM345.1 142.1h1v1h-1zM345.6 143.5h1v1h-1zM346.1 146.0h1v1h-1zM346.2 118.7h1v1h-1zM347.1 118.1h1v1h-1zM346.9 149.7h1v1h-1zM346.8 119.6h1v1h-1zM347.1 120.5h1v1h-1zM347.4 121.4h1v1h-1zM347.5 119.4h1v1h-1zM347.4 150.2h1v1h-1zM347.3 152.3h1v1h-1zM348.0 154.0h1v1h-1zM348.2 154.9h1v1h-1zM348.1 155.9h1v1h-1zM348.1 120.5h1v1h-1zM348.3 152.9h1v1h-1zM348.2 154.8h1v1h-1zM348.3 124.0h1v1h-1zM348.2 153.5h1v1h-1zM349.1 123.2h1v1h-1zM349.1 155.5h1v1h-1zM349.2 159.9h1v1h-1zM348.7 155.6h1v1h-1zM349.5 123.9h1v1h-1zM349.4 156.9h1v1h-1zM349.7 125.4h1v1h-1zM349.7 124.0h1v1h-1zM349.7 126.6h1v1h-1zM349.8 126.9h1v1h-1zM349.9 157.5h1v1h-1zM349.8 158.1h1v1h-1zM350.4 127.8h1v1h-1zM350.3 125.7h1v1h-1zM350.5 125.8h1v1h-1zM350.6 124.6h1v1h-1zM351.1 126.2h1v1h-1zM351.2 125.1h1v1h-1zM350.7 125.8h1v1h-1zM351.1 125.6h1v1h-1zM351.3 163.1h1v1h-1zM351.6 128.4h1v1h-1zM351.4 160.2h1v1h-1zM351.4 126.9h1v1h-1zM352.0 159.2h1v1h-1zM352.0 164.5h1v1h-1zM352.2 160.8h1v1h-1zM352.0 159.6h1v1h-1zM352.6 125.9h1v1h-1zM352.2 127.4h1v1h-1zM352.3 161.8h1v1h-1zM352.4 160.6h1v1h-1zM352.8 124.9h1v1h-1zM353.1 125.1h1v1h-1zM352.9 163.9h1v1h-1zM353.0 128.4h1v1h-1zM353.3 160.9h1v1h-1zM353.2 128.1h1v1h-1zM353.5 128.7h1v1h-1zM353.5 162.8h1v1h-1zM354.0 126.4h1v1h-1zM354.0 161.2h1v1h-1zM354.2 126.7h1v1h-1zM353.9 161.5h1v1h-1zM354.6 126.3h1v1h-1zM354.4 162.8h1v1h-1zM354.3 160.6h1v1h-1zM354.5 162.0h1v1h-1zM355.1 161.3h1v1h-1zM355.1 160.9h1v1h-1zM354.8 125.2h1v1h-1zM354.9 160.8h1v1h-1zM355.6 163.7h1v1h-1zM355.3 165.6h1v1h-1zM355.5 125.2h1v1h-1zM355.3 164.4h1v1h-1zM355.9 118.7h1v1h-1zM356.0 121.6h1v1h-1zM356.0 160.9h1v1h-1zM356.1 159.9h1v1h-1zM356.5 120.8h1v1h-1zM356.4 121.1h1v1h-1zM356.3 119.4h1v1h-1zM356.2 156.5h1v1h-1zM357.1 159.1h1v1h-1zM357.1 116.2h1v1h-1zM356.9 114.8h1v1h-1zM357.0 116.4h1v1h-1zM357.4 111.1h1v1h-1zM357.6 158.6h1v1h-1zM357.7 111.4h1v1h-1zM357.5 153.8h1v1h-1zM358.0 109.0h1v1h-1zM357.9 154.4h1v1h-1zM357.8 153.9h1v1h-1zM357.7 109.6h1v1h-1zM358.3 153.8h1v1h-1zM358.6 154.5h1v1h-1zM358.5 152.8h1v1h-1zM358.3 106.0h1v1h-1zM359.1 156.0h1v1h-1zM358.7 102.4h1v1h-1zM359.1 154.0h1v1h-1zM358.8 153.5h1v1h-1zM359.6 153.4h1v1h-1zM359.6 149.2h1v1h-1zM359.3 100.0h1v1h-1zM359.3 150.6h1v1h-1zM359.9 147.9h1v1h-1zM360.0 98.8h1v1h-1zM360.2 96.9h1v1h-1zM360.1 149.8h1v1h-1zM360.5 148.8h1v1h-1zM360.4 148.2h1v1h-1zM360.2 95.4h1v1h-1zM360.3 95.0h1v1h-1zM361.0 93.1h1v1h-1zM361.0 149.1h1v1h-1zM361.1 146.8h1v1h-1zM361.0 92.5h1v1h-1zM361.4 89.8h1v1h-1zM361.3 145.9h1v1h-1zM361.6 149.7h1v1h-1zM361.4 90.9h1v1h-1zM362.0 143.5h1v1h-1zM361.8 89.8h1v1h-1zM361.8 144.8h1v1h-1zM362.0 145.8h1v1h-1zM362.4 139.4h1v1h-1zM362.6 87.5h1v1h-1zM362.7 86.4h1v1h-1zM362.6 88.8h1v1h-1zM363.2 138.2h1v1h-1zM362.8 137.2h1v1h-1zM363.2 136.3h1v1h-1zM363.1 134.9h1v1h-1zM363.2 82.0h1v1h-1zM363.7 86.2h1v1h-1zM363.7 82.1h1v1h-1zM363.6 82.5h1v1h-1zM364.0 82.9h1v1h-1zM364.1 127.3h1v1h-1zM363.8 127.3h1v1h-1zM364.0 131.1h1v1h-1zM364.4 129.2h1v1h-1zM364.4 80.1h1v1h-1zM364.7 125.6h1v1h-1zM364.3 126.3h1v1h-1zM364.9 77.8h1v1h-1zM364.9 121.8h1v1h-1zM365.0 81.2h1v1h-1zM365.0 76.4h1v1h-1zM365.3 123.2h1v1h-1zM365.7 76.1h1v1h-1zM365.4 76.3h1v1h-1zM365.5 75.9h1v1h-1zM366.2 73.6h1v1h-1zM366.0 122.4h1v1h-1zM366.1 74.7h1v1h-1zM365.8 76.7h1v1h-1zM366.6 73.3h1v1h-1zM366.3 116.9h1v1h-1zM366.6 119.6h1v1h-1zM366.7 116.2h1v1h-1zM367.1 72.2h1v1h-1zM366.7 70.7h1v1h-1zM366.7 117.3h1v1h-1zM367.1 115.2h1v1h-1zM367.4 68.1h1v1h-1zM367.5 67.8h1v1h-1zM367.4 111.9h1v1h-1zM367.7 68.1h1v1h-1zM368.1 65.1h1v1h-1zM368.0 68.8h1v1h-1zM368.1 66.5h1v1h-1zM367.9 66.7h1v1h-1zM368.5 107.5h1v1h-1zM368.3 67.2h1v1h-1zM368.2 65.3h1v1h-1zM368.4 66.7h1v1h-1zM368.8 67.3h1v1h-1zM369.2 67.3h1v1h-1zM369.0 106.9h1v1h-1zM368.7 106.1h1v1h-1zM369.5 107.5h1v1h-1zM369.5 66.3h1v1h-1zM369.6 67.4h1v1h-1zM369.4 106.8h1v1h-1zM369.7 103.6h1v1h-1zM369.8 65.9h1v1h-1zM369.9 105.2h1v1h-1zM370.2 64.5h1v1h-1zM370.4 103.9h1v1h-1zM370.3 105.2h1v1h-1zM370.6 102.4h1v1h-1zM370.3 63.9h1v1h-1zM370.9 100.7h1v1h-1zM371.2 63.7h1v1h-1zM370.9 62.1h1v1h-1zM370.7 60.0h1v1h-1zM371.3 102.1h1v1h-1zM371.7 103.5h1v1h-1zM371.7 102.2h1v1h-1zM371.3 54.7h1v1h-1zM371.9 61.3h1v1h-1zM372.1 101.8h1v1h-1zM371.9 59.7h1v1h-1zM371.8 102.2h1v1h-1zM372.5 59.4h1v1h-1zM372.3 60.3h1v1h-1zM372.4 58.9h1v1h-1zM372.6 59.0h1v1h-1zM373.0 100.2h1v1h-1zM372.9 100.5h1v1h-1zM372.8 59.4h1v1h-1zM373.0 99.4h1v1h-1zM373.6 96.6h1v1h-1zM373.5 98.9h1v1h-1zM373.3 96.4h1v1h-1zM373.4 58.2h1v1h-1zM373.9 57.7h1v1h-1zM374.0 56.5h1v1h-1zM374.1 97.7h1v1h-1zM374.1 56.3h1v1h-1zM374.6 95.0h1v1h-1zM374.4 97.5h1v1h-1zM374.5 52.8h1v1h-1zM374.3 55.8h1v1h-1zM375.0 54.3h1v1h-1zM374.9 100.2h1v1h-1zM374.7 97.5h1v1h-1zM375.0 97.6h1v1h-1zM375.3 94.0h1v1h-1zM375.3 95.3h1v1h-1zM375.6 55.1h1v1h-1zM375.5 94.0h1v1h-1zM376.1 51.7h1v1h-1zM376.2 94.3h1v1h-1zM376.0 54.7h1v1h-1zM375.8 52.7h1v1h-1zM376.3 95.3h1v1h-1zM376.6 94.0h1v1h-1zM376.5 51.1h1v1h-1zM376.6 51.1h1v1h-1zM376.8 93.6h1v1h-1zM377.0 96.0h1v1h-1zM376.9 47.4h1v1h-1zM377.0 48.6h1v1h-1zM377.6 49.0h1v1h-1zM377.7 93.7h1v1h-1zM377.3 49.8h1v1h-1zM377.5 94.0h1v1h-1zM378.1 95.5h1v1h-1zM378.0 97.4h1v1h-1zM377.8 98.3h1v1h-1zM377.9 95.2h1v1h-1zM378.2 96.3h1v1h-1zM378.4 47.7h1v1h-1zM378.6 93.1h1v1h-1zM378.4 97.0h1v1h-1zM378.8 47.0h1v1h-1zM378.9 95.6h1v1h-1zM379.2 96.7h1v1h-1zM378.8 95.6h1v1h-1zM379.2 96.9h1v1h-1zM379.5 97.5h1v1h-1zM379.5 96.8h1v1h-1zM379.7 95.9h1v1h-1zM379.8 45.3h1v1h-1zM379.9 46.1h1v1h-1zM379.9 44.9h1v1h-1zM380.2 45.6h1v1h-1zM380.6 46.4h1v1h-1zM380.5 43.1h1v1h-1zM380.2 98.6h1v1h-1zM380.3 96.9h1v1h-1zM380.8 98.7h1v1h-1zM380.7 98.8h1v1h-1zM381.1 100.6h1v1h-1zM380.8 98.2h1v1h-1zM381.6 98.1h1v1h-1zM381.4 48.4h1v1h-1zM381.2 100.8h1v1h-1zM381.4 103.3h1v1h-1zM381.8 45.3h1v1h-1zM382.1 48.3h1v1h-1zM382.1 98.7h1v1h-1zM382.1 102.2h1v1h-1zM382.4 47.6h1v1h-1zM382.4 45.9h1v1h-1zM382.4 100.8h1v1h-1zM382.7 46.8h1v1h-1zM383.1 99.9h1v1h-1zM382.9 102.4h1v1h-1zM383.1 100.8h1v1h-1zM382.9 102.0h1v1h-1zM383.4 50.2h1v1h-1zM383.3 103.6h1v1h-1zM383.7 51.3h1v1h-1zM383.2 46.4h1v1h-1zM383.9 50.0h1v1h-1zM384.0 105.3h1v1h-1zM383.8 49.4h1v1h-1zM384.0 50.5h1v1h-1zM384.7 50.5h1v1h-1zM384.5 52.7h1v1h-1zM384.4 105.9h1v1h-1zM384.4 105.6h1v1h-1zM385.2 54.4h1v1h-1zM385.1 106.8h1v1h-1zM384.9 103.3h1v1h-1zM384.8 105.6h1v1h-1zM385.2 50.5h1v1h-1zM385.4 106.6h1v1h-1zM385.6 103.7h1v1h-1zM385.5 105.0h1v1h-1zM385.9 53.6h1v1h-1zM385.8 105.7h1v1h-1zM385.9 50.1h1v1h-1zM386.2 53.6h1v1h-1zM386.5 104.0h1v1h-1zM386.4 52.9h1v1h-1zM386.2 107.5h1v1h-1zM386.7 106.1h1v1h-1zM387.0 52.7h1v1h-1zM387.1 104.8h1v1h-1zM387.0 52.8h1v1h-1zM387.2 103.4h1v1h-1zM387.4 51.4h1v1h-1zM387.5 103.9h1v1h-1zM387.2 105.6h1v1h-1zM387.6 51.0h1v1h-1zM388.0 101.7h1v1h-1zM388.0 50.9h1v1h-1zM387.9 107.8h1v1h-1zM388.0 53.2h1v1h-1zM388.6 103.0h1v1h-1zM388.3 51.2h1v1h-1zM388.6 49.5h1v1h-1zM388.7 104.6h1v1h-1zM388.9 104.1h1v1h-1zM389.1 53.1h1v1h-1zM388.9 103.6h1v1h-1zM388.9 105.0h1v1h-1zM389.6 49.0h1v1h-1zM389.6 49.7h1v1h-1zM389.2 100.4h1v1h-1zM389.6 49.8h1v1h-1zM390.1 50.8h1v1h-1zM390.0 49.7h1v1h-1zM389.9 44.3h1v1h-1zM389.9 100.9h1v1h-1zM390.6 98.2h1v1h-1zM390.5 96.1h1v1h-1zM390.2 48.6h1v1h-1zM390.3 96.7h1v1h-1zM391.2 43.6h1v1h-1zM391.1 44.0h1v1h-1zM391.2 95.9h1v1h-1zM390.9 99.3h1v1h-1zM391.2 94.0h1v1h-1zM391.6 43.5h1v1h-1zM391.2 44.0h1v1h-1zM391.5 41.2h1v1h-1zM392.0 93.6h1v1h-1zM391.8 43.4h1v1h-1zM391.9 95.5h1v1h-1zM391.8 94.2h1v1h-1zM392.4 41.7h1v1h-1zM392.5 93.9h1v1h-1zM392.3 41.3h1v1h-1zM392.6 92.8h1v1h-1zM392.9 40.8h1v1h-1zM393.0 90.9h1v1h-1zM392.8 41.1h1v1h-1zM393.2 91.8h1v1h-1zM393.4 36.9h1v1h-1zM393.7 91.7h1v1h-1zM393.4 90.8h1v1h-1zM393.6 38.4h1v1h-1zM393.7 92.2h1v1h-1zM394.1 37.5h1v1h-1zM393.9 89.8h1v1h-1zM393.7 35.7h1v1h-1zM394.5 38.6h1v1h-1zM394.5 35.0h1v1h-1zM394.3 91.9h1v1h-1zM394.5 91.1h1v1h-1zM394.8 34.4h1v1h-1zM394.8 36.9h1v1h-1zM394.8 90.0h1v1h-1zM394.8 89.6h1v1h-1zM395.3 89.9h1v1h-1zM395.4 33.7h1v1h-1zM395.4 38.1h1v1h-1zM395.6 34.7h1v1h-1zM396.1 38.6h1v1h-1zM396.0 33.1h1v1h-1zM395.8 35.2h1v1h-1zM395.7 91.8h1v1h-1zM396.5 90.3h1v1h-1zM396.6 34.0h1v1h-1zM396.2 91.9h1v1h-1zM396.3 36.4h1v1h-1zM397.0 31.8h1v1h-1zM396.9 92.2h1v1h-1zM397.1 38.1h1v1h-1zM396.7 88.8h1v1h-1zM397.3 36.3h1v1h-1zM397.5 34.9h1v1h-1zM397.2 91.1h1v1h-1zM397.4 35.5h1v1h-1zM398.1 36.5h1v1h-1zM397.9 30.3h1v1h-1zM398.1 30.0h1v1h-1zM398.1 91.8h1v1h-1zM398.3 93.6h1v1h-1zM398.3 32.3h1v1h-1zM398.7 91.3h1v1h-1zM398.3 36.2h1v1h-1zM398.8 37.5h1v1h-1zM398.8 32.8h1v1h-1zM398.7 36.9h1v1h-1zM398.8 33.9h1v1h-1zM399.3 94.4h1v1h-1zM399.6 36.6h1v1h-1zM399.4 36.4h1v1h-1zM399.4 93.1h1v1h-1zM399.8 91.1h1v1h-1zM400.2 95.2h1v1h-1zM400.1 37.8h1v1h-1zM399.8 91.3h1v1h-1zM400.6 37.5h1v1h-1zM400.6 91.8h1v1h-1zM400.5 93.5h1v1h-1zM400.3 37.8h1v1h-1zM400.8 34.7h1v1h-1zM400.8 95.0h1v1h-1zM401.0 33.1h1v1h-1zM401.0 91.9h1v1h-1zM401.3 96.8h1v1h-1zM401.6 37.5h1v1h-1zM401.6 93.8h1v1h-1zM401.2 34.9h1v1h-1zM401.9 94.0h1v1h-1zM401.8 93.5h1v1h-1zM402.1 92.5h1v1h-1zM402.0 91.7h1v1h-1zM402.3 37.3h1v1h-1zM402.2 36.0h1v1h-1zM402.4 36.7h1v1h-1zM402.7 37.5h1v1h-1zM402.8 37.8h1v1h-1zM402.7 38.4h1v1h-1zM402.8 33.7h1v1h-1zM403.1 94.9h1v1h-1zM403.5 94.5h1v1h-1zM403.7 93.9h1v1h-1zM403.4 95.1h1v1h-1zM403.4 38.4h1v1h-1zM403.8 41.3h1v1h-1zM403.7 38.1h1v1h-1zM403.8 96.4h1v1h-1zM404.1 37.2h1v1h-1zM404.6 98.1h1v1h-1zM404.6 41.3h1v1h-1zM404.4 40.3h1v1h-1zM404.6 97.9h1v1h-1zM405.0 42.7h1v1h-1zM405.1 42.5h1v1h-1zM405.2 99.0h1v1h-1zM404.8 98.1h1v1h-1zM405.4 44.5h1v1h-1zM405.7 97.9h1v1h-1zM405.3 43.4h1v1h-1zM405.7 98.1h1v1h-1zM406.1 99.3h1v1h-1zM406.1 100.1h1v1h-1zM406.1 47.9h1v1h-1zM406.2 47.8h1v1h-1zM406.7 99.2h1v1h-1zM406.2 101.4h1v1h-1zM406.4 49.1h1v1h-1zM406.2 48.8h1v1h-1zM407.1 50.1h1v1h-1zM406.8 49.7h1v1h-1zM407.2 104.2h1v1h-1zM406.7 103.3h1v1h-1zM407.3 49.6h1v1h-1zM407.3 106.5h1v1h-1zM407.5 104.5h1v1h-1zM407.2 46.4h1v1h-1zM408.1 51.9h1v1h-1zM408.2 105.5h1v1h-1zM408.0 48.9h1v1h-1zM408.0 50.5h1v1h-1zM408.7 108.1h1v1h-1zM408.3 109.3h1v1h-1zM408.3 105.7h1v1h-1zM408.4 49.2h1v1h-1zM409.2 50.2h1v1h-1zM408.9 108.2h1v1h-1zM409.1 48.7h1v1h-1zM408.7 48.9h1v1h-1zM409.4 50.4h1v1h-1zM409.5 112.5h1v1h-1zM409.3 49.5h1v1h-1zM409.3 50.6h1v1h-1zM410.1 106.9h1v1h-1zM410.0 50.9h1v1h-1zM409.8 108.3h1v1h-1zM409.9 47.9h1v1h-1zM410.6 106.9h1v1h-1zM410.7 110.7h1v1h-1zM410.6 106.9h1v1h-1zM410.7 108.1h1v1h-1zM410.8 105.1h1v1h-1zM410.8 51.7h1v1h-1zM410.8 49.3h1v1h-1zM411.1 109.6h1v1h-1zM411.3 104.5h1v1h-1zM411.4 49.2h1v1h-1zM411.3 102.7h1v1h-1zM411.3 51.5h1v1h-1zM411.9 48.8h1v1h-1zM411.8 48.5h1v1h-1zM411.9 48.3h1v1h-1zM411.9 102.4h1v1h-1zM412.4 99.1h1v1h-1zM412.6 48.5h1v1h-1zM412.3 100.9h1v1h-1zM412.4 49.3h1v1h-1zM413.2 47.2h1v1h-1zM412.9 49.0h1v1h-1zM413.0 98.1h1v1h-1zM412.8 98.8h1v1h-1zM413.7 96.9h1v1h-1zM413.3 46.5h1v1h-1zM413.2 47.1h1v1h-1zM413.2 48.6h1v1h-1zM414.0 45.8h1v1h-1zM413.9 48.2h1v1h-1zM414.1 48.5h1v1h-1zM413.9 46.0h1v1h-1zM414.4 45.3h1v1h-1zM414.5 99.7h1v1h-1zM414.4 46.2h1v1h-1zM414.5 94.0h1v1h-1zM415.1 93.6h1v1h-1zM415.0 45.8h1v1h-1zM415.1 94.7h1v1h-1zM414.8 94.3h1v1h-1zM415.3 46.2h1v1h-1zM415.6 96.8h1v1h-1zM415.7 44.2h1v1h-1zM415.6 44.5h1v1h-1zM415.9 44.7h1v1h-1zM416.0 46.2h1v1h-1zM416.0 47.5h1v1h-1zM415.8 48.2h1v1h-1zM416.4 96.0h1v1h-1zM416.4 45.6h1v1h-1zM416.3 46.0h1v1h-1zM416.4 40.8h1v1h-1zM416.9 96.8h1v1h-1zM417.1 97.9h1v1h-1zM417.0 96.0h1v1h-1zM416.8 47.6h1v1h-1zM417.5 46.9h1v1h-1zM417.3 99.7h1v1h-1zM417.4 44.1h1v1h-1zM417.5 47.1h1v1h-1zM417.9 98.3h1v1h-1zM418.0 45.8h1v1h-1zM417.9 99.7h1v1h-1zM417.8 98.3h1v1h-1zM418.4 100.4h1v1h-1zM418.2 47.6h1v1h-1zM418.2 98.8h1v1h-1zM418.7 100.1h1v1h-1zM418.7 101.4h1v1h-1zM418.9 45.7h1v1h-1zM418.9 48.8h1v1h-1zM418.8 101.4h1v1h-1zM419.3 99.3h1v1h-1zM419.5 99.4h1v1h-1zM419.3 97.7h1v1h-1zM419.5 45.7h1v1h-1zM420.0 48.4h1v1h-1zM420.2 48.0h1v1h-1zM419.9 101.4h1v1h-1zM420.0 45.9h1v1h-1zM420.4 96.8h1v1h-1zM420.3 96.5h1v1h-1zM420.5 98.9h1v1h-1zM420.7 97.0h1v1h-1zM421.0 44.7h1v1h-1zM420.8 44.6h1v1h-1zM420.9 47.4h1v1h-1zM420.9 95.4h1v1h-1zM421.4 43.7h1v1h-1zM421.4 43.3h1v1h-1zM421.4 44.5h1v1h-1zM421.4 45.5h1v1h-1zM421.9 45.8h1v1h-1zM422.0 44.3h1v1h-1zM421.9 44.5h1v1h-1zM421.8 43.7h1v1h-1zM422.5 45.3h1v1h-1zM422.6 43.5h1v1h-1zM422.4 93.8h1v1h-1zM422.3 45.3h1v1h-1zM422.8 44.5h1v1h-1zM423.2 43.8h1v1h-1zM423.0 95.1h1v1h-1zM422.9 42.6h1v1h-1zM423.3 93.7h1v1h-1zM423.3 93.9h1v1h-1zM423.4 92.7h1v1h-1zM423.6 93.5h1v1h-1zM423.7 41.8h1v1h-1zM424.0 95.3h1v1h-1zM424.0 39.4h1v1h-1zM424.0 39.7h1v1h-1zM424.2 91.2h1v1h-1zM424.3 40.0h1v1h-1zM424.4 91.4h1v1h-1zM424.5 41.6h1v1h-1zM425.2 90.4h1v1h-1zM425.1 91.1h1v1h-1zM425.2 90.7h1v1h-1zM424.7 39.3h1v1h-1zM425.5 88.6h1v1h-1zM425.3 87.3h1v1h-1zM425.4 93.4h1v1h-1zM425.3 88.6h1v1h-1zM426.0 89.5h1v1h-1zM426.1 35.6h1v1h-1zM426.1 91.2h1v1h-1zM426.0 91.0h1v1h-1zM426.4 87.1h1v1h-1zM426.5 90.3h1v1h-1zM426.4 87.5h1v1h-1zM426.7 89.1h1v1h-1zM426.8 84.8h1v1h-1zM427.0 38.6h1v1h-1zM427.1 36.7h1v1h-1zM427.0 35.0h1v1h-1zM427.7 84.9h1v1h-1zM427.4 33.3h1v1h-1zM427.3 85.7h1v1h-1zM427.3 86.2h1v1h-1zM428.1 32.9h1v1h-1zM428.0 35.0h1v1h-1zM427.8 85.5h1v1h-1zM428.1 86.7h1v1h-1zM428.4 37.9h1v1h-1zM428.4 36.0h1v1h-1zM428.3 87.9h1v1h-1zM428.4 85.0h1v1h-1zM429.1 89.5h1v1h-1zM428.8 88.6h1v1h-1zM429.1 85.9h1v1h-1zM429.2 89.4h1v1h-1zM429.3 85.7h1v1h-1zM429.3 37.9h1v1h-1zM429.6 36.4h1v1h-1zM429.3 89.1h1v1h-1zM429.9 37.2h1v1h-1zM430.0 34.3h1v1h-1zM430.1 36.0h1v1h-1zM430.0 37.7h1v1h-1zM430.3 87.9h1v1h-1zM430.3 38.3h1v1h-1zM430.5 36.4h1v1h-1zM430.7 38.0h1v1h-1zM430.8 39.2h1v1h-1zM431.0 87.7h1v1h-1zM431.0 34.2h1v1h-1zM430.8 88.4h1v1h-1zM431.5 87.6h1v1h-1zM431.5 36.9h1v1h-1zM431.2 89.7h1v1h-1zM431.3 87.4h1v1h-1zM432.1 38.3h1v1h-1zM431.8 87.1h1v1h-1zM431.7 37.8h1v1h-1zM431.9 38.8h1v1h-1zM432.6 36.4h1v1h-1zM432.6 89.6h1v1h-1zM432.5 35.4h1v1h-1zM432.6 38.0h1v1h-1zM432.7 38.9h1v1h-1zM432.9 37.1h1v1h-1zM433.2 38.5h1v1h-1zM432.8 88.3h1v1h-1zM433.5 87.1h1v1h-1zM433.4 37.4h1v1h-1zM433.2 39.4h1v1h-1zM433.3 36.7h1v1h-1zM433.7 88.4h1v1h-1zM433.8 85.9h1v1h-1zM434.1 36.3h1v1h-1zM434.1 36.2h1v1h-1zM434.3 88.1h1v1h-1zM434.3 88.3h1v1h-1zM434.3 86.0h1v1h-1zM434.3 35.7h1v1h-1zM434.8 90.4h1v1h-1zM434.9 87.3h1v1h-1zM434.7 35.8h1v1h-1zM435.0 89.3h1v1h-1zM435.4 36.2h1v1h-1zM435.2 38.6h1v1h-1zM435.3 87.1h1v1h-1zM435.6 37.2h1v1h-1zM435.9 86.2h1v1h-1zM435.7 36.6h1v1h-1zM435.8 86.9h1v1h-1zM436.1 84.4h1v1h-1zM436.5 36.5h1v1h-1zM436.6 86.6h1v1h-1zM436.7 36.9h1v1h-1zM436.2 37.3h1v1h-1zM436.9 36.1h1v1h-1zM437.2 36.5h1v1h-1zM436.9 35.3h1v1h-1zM437.1 37.1h1v1h-1zM437.2 86.9h1v1h-1zM437.5 35.7h1v1h-1zM437.5 34.6h1v1h-1zM437.3 85.3h1v1h-1zM438.2 87.4h1v1h-1zM437.8 34.8h1v1h-1zM438.1 88.1h1v1h-1zM437.9 34.1h1v1h-1zM438.4 39.6h1v1h-1zM438.5 35.0h1v1h-1zM438.3 85.2h1v1h-1zM438.3 38.7h1v1h-1zM438.9 86.9h1v1h-1zM439.1 36.8h1v1h-1zM439.0 88.4h1v1h-1zM439.0 86.4h1v1h-1zM439.4 36.2h1v1h-1zM439.7 37.3h1v1h-1zM439.6 85.5h1v1h-1zM439.4 38.5h1v1h-1zM439.8 93.0h1v1h-1zM440.0 89.6h1v1h-1zM439.7 38.9h1v1h-1zM440.1 38.8h1v1h-1zM440.2 38.0h1v1h-1zM440.3 88.8h1v1h-1zM440.2 37.2h1v1h-1zM440.7 37.7h1v1h-1zM440.7 38.2h1v1h-1zM440.8 91.0h1v1h-1zM441.1 87.1h1v1h-1zM441.1 42.3h1v1h-1zM441.4 41.1h1v1h-1zM441.4 40.5h1v1h-1zM441.5 89.7h1v1h-1zM441.6 40.4h1v1h-1zM441.8 41.2h1v1h-1zM441.8 92.8h1v1h-1zM442.1 91.6h1v1h-1zM441.9 88.6h1v1h-1zM442.6 92.7h1v1h-1zM442.5 42.3h1v1h-1zM442.5 42.6h1v1h-1zM442.4 92.0h1v1h-1zM442.8 42.7h1v1h-1zM442.7 91.7h1v1h-1zM442.7 41.6h1v1h-1zM442.8 41.7h1v1h-1zM443.6 46.2h1v1h-1zM443.7 92.5h1v1h-1zM443.4 44.0h1v1h-1zM443.5 43.9h1v1h-1zM443.9 45.5h1v1h-1zM444.0 45.3h1v1h-1zM443.9 43.6h1v1h-1zM443.7 94.2h1v1h-1zM444.4 92.4h1v1h-1zM444.4 93.4h1v1h-1zM444.3 93.2h1v1h-1zM444.6 39.9h1v1h-1zM444.7 40.5h1v1h-1zM444.8 41.3h1v1h-1zM444.8 92.3h1v1h-1zM445.1 42.2h1v1h-1zM445.2 93.2h1v1h-1zM445.4 42.1h1v1h-1zM445.2 94.4h1v1h-1zM445.7 94.4h1v1h-1zM445.9 38.6h1v1h-1zM445.9 89.2h1v1h-1zM445.9 90.5h1v1h-1zM445.8 41.2h1v1h-1zM446.5 38.5h1v1h-1zM446.3 89.9h1v1h-1zM446.6 35.6h1v1h-1zM446.5 35.9h1v1h-1zM447.0 88.9h1v1h-1zM446.8 88.2h1v1h-1zM446.9 37.6h1v1h-1zM447.0 89.4h1v1h-1zM447.3 86.3h1v1h-1zM447.5 88.9h1v1h-1zM447.5 35.0h1v1h-1zM447.5 32.7h1v1h-1zM448.2 35.0h1v1h-1zM448.1 33.2h1v1h-1zM447.9 34.7h1v1h-1zM448.1 35.1h1v1h-1zM448.4 34.8h1v1h-1zM448.4 86.0h1v1h-1zM448.6 35.7h1v1h-1zM448.6 85.9h1v1h-1zM449.0 88.0h1v1h-1zM448.9 86.8h1v1h-1zM449.2 88.6h1v1h-1zM448.9 87.7h1v1h-1zM449.7 31.4h1v1h-1zM449.5 86.5h1v1h-1zM449.6 34.7h1v1h-1zM449.7 87.6h1v1h-1zM449.7 31.1h1v1h-1zM450.1 86.3h1v1h-1zM450.1 33.3h1v1h-1zM449.8 86.7h1v1h-1zM450.5 84.9h1v1h-1zM450.6 86.6h1v1h-1zM450.5 33.5h1v1h-1zM450.4 35.4h1v1h-1zM450.8 86.5h1v1h-1zM450.8 31.5h1v1h-1zM450.8 87.5h1v1h-1zM450.8 31.7h1v1h-1zM451.4 32.2h1v1h-1zM451.5 33.9h1v1h-1zM451.5 85.9h1v1h-1zM451.3 29.6h1v1h-1zM451.8 84.7h1v1h-1zM451.8 33.4h1v1h-1zM451.9 83.6h1v1h-1zM451.9 30.5h1v1h-1zM452.4 87.4h1v1h-1zM452.6 36.0h1v1h-1zM452.3 33.3h1v1h-1zM452.6 33.8h1v1h-1zM452.9 32.7h1v1h-1zM453.1 35.9h1v1h-1zM453.0 87.1h1v1h-1zM452.8 35.0h1v1h-1zM453.4 36.7h1v1h-1zM453.5 87.1h1v1h-1zM453.3 86.4h1v1h-1zM453.5 32.0h1v1h-1zM453.9 36.0h1v1h-1zM453.7 89.1h1v1h-1zM454.0 90.9h1v1h-1zM454.1 33.7h1v1h-1zM454.3 39.1h1v1h-1zM454.3 36.6h1v1h-1zM454.4 88.9h1v1h-1zM454.7 88.7h1v1h-1zM454.8 36.7h1v1h-1zM455.1 37.1h1v1h-1zM454.8 88.6h1v1h-1zM455.2 88.1h1v1h-1zM455.6 88.9h1v1h-1zM455.3 36.8h1v1h-1zM455.3 89.0h1v1h-1zM455.6 92.5h1v1h-1zM456.0 41.2h1v1h-1zM455.9 92.9h1v1h-1zM456.1 89.5h1v1h-1zM455.9 36.3h1v1h-1zM456.4 36.7h1v1h-1zM456.2 87.9h1v1h-1zM456.5 89.9h1v1h-1zM456.4 90.6h1v1h-1zM457.0 37.6h1v1h-1zM456.8 89.2h1v1h-1zM457.0 89.8h1v1h-1zM456.9 91.4h1v1h-1zM457.4 87.5h1v1h-1zM457.2 90.4h1v1h-1zM457.7 91.1h1v1h-1zM457.6 35.5h1v1h-1zM457.8 89.6h1v1h-1zM458.1 35.0h1v1h-1zM458.2 90.2h1v1h-1zM458.0 37.2h1v1h-1zM458.3 37.0h1v1h-1zM458.5 87.1h1v1h-1zM458.3 35.8h1v1h-1zM458.5 88.9h1v1h-1zM458.8 37.4h1v1h-1zM459.0 91.5h1v1h-1zM458.8 90.4h1v1h-1zM458.8 32.2h1v1h-1zM459.5 34.7h1v1h-1zM459.4 37.7h1v1h-1zM459.7 35.4h1v1h-1zM459.3 33.9h1v1h-1zM460.1 35.3h1v1h-1zM459.7 90.6h1v1h-1zM459.8 89.1h1v1h-1zM460.2 89.3h1v1h-1zM460.5 33.5h1v1h-1zM460.4 34.1h1v1h-1zM460.2 33.6h1v1h-1zM460.6 37.0h1v1h-1zM461.1 87.1h1v1h-1zM460.9 34.6h1v1h-1zM461.2 87.3h1v1h-1zM461.0 88.4h1v1h-1zM461.5 33.9h1v1h-1zM461.7 35.8h1v1h-1zM461.5 32.4h1v1h-1zM461.4 35.3h1v1h-1zM462.1 32.9h1v1h-1zM462.0 33.3h1v1h-1zM461.7 90.1h1v1h-1zM462.1 86.7h1v1h-1zM462.3 29.8h1v1h-1zM462.2 85.9h1v1h-1zM462.7 32.6h1v1h-1zM462.7 89.1h1v1h-1zM463.0 34.6h1v1h-1zM463.0 85.0h1v1h-1zM463.0 33.3h1v1h-1zM462.8 34.4h1v1h-1zM463.4 34.2h1v1h-1zM463.3 34.8h1v1h-1zM463.7 85.6h1v1h-1zM463.5 32.5h1v1h-1zM464.0 31.6h1v1h-1zM464.0 33.2h1v1h-1zM464.1 32.0h1v1h-1zM463.9 88.3h1v1h-1zM464.7 84.7h1v1h-1zM464.6 34.5h1v1h-1zM464.3 34.6h1v1h-1zM464.5 85.4h1v1h-1zM465.1 34.1h1v1h-1zM465.1 88.0h1v1h-1zM464.8 34.0h1v1h-1zM464.7 83.4h1v1h-1zM465.6 85.5h1v1h-1zM465.6 86.4h1v1h-1zM465.3 30.7h1v1h-1zM465.7 32.1h1v1h-1zM466.0 86.5h1v1h-1zM466.1 29.3h1v1h-1zM466.1 86.9h1v1h-1zM466.1 29.4h1v1h-1zM466.7 90.8h1v1h-1zM466.2 83.8h1v1h-1zM466.5 84.3h1v1h-1zM466.3 85.7h1v1h-1zM466.9 29.4h1v1h-1zM467.0 84.7h1v1h-1zM467.0 32.9h1v1h-1zM466.8 33.2h1v1h-1zM467.6 87.6h1v1h-1zM467.5 85.6h1v1h-1zM467.2 84.9h1v1h-1zM467.3 30.1h1v1h-1zM468.1 30.0h1v1h-1zM467.8 86.4h1v1h-1zM467.8 85.4h1v1h-1zM467.8 31.3h1v1h-1zM468.3 86.7h1v1h-1zM468.6 30.0h1v1h-1zM468.5 84.3h1v1h-1zM468.6 31.7h1v1h-1zM468.7 85.7h1v1h-1zM468.9 89.7h1v1h-1zM469.0 29.4h1v1h-1zM468.9 91.0h1v1h-1zM469.2 31.6h1v1h-1zM469.2 88.2h1v1h-1zM469.3 31.8h1v1h-1zM469.3 86.9h1v1h-1zM470.2 87.9h1v1h-1zM469.9 88.4h1v1h-1zM469.7 88.4h1v1h-1zM469.8 31.8h1v1h-1zM470.6 30.8h1v1h-1zM470.5 29.7h1v1h-1zM470.4 28.8h1v1h-1zM470.4 85.1h1v1h-1zM470.8 32.3h1v1h-1zM470.7 85.2h1v1h-1zM471.1 28.8h1v1h-1zM470.9 30.4h1v1h-1zM471.6 88.2h1v1h-1zM471.7 31.2h1v1h-1zM471.7 28.6h1v1h-1zM471.6 32.8h1v1h-1zM471.7 31.4h1v1h-1zM472.1 32.8h1v1h-1zM471.8 27.4h1v1h-1zM471.9 90.2h1v1h-1zM472.3 89.8h1v1h-1zM472.7 90.7h1v1h-1zM472.2 89.2h1v1h-1zM472.6 31.2h1v1h-1zM473.1 30.6h1v1h-1zM472.7 31.6h1v1h-1zM473.2 87.8h1v1h-1zM472.7 32.7h1v1h-1zM473.6 34.5h1v1h-1zM473.5 88.7h1v1h-1zM473.7 32.7h1v1h-1zM473.7 89.3h1v1h-1zM474.0 88.8h1v1h-1zM474.0 32.9h1v1h-1zM474.1 90.6h1v1h-1zM474.1 33.4h1v1h-1zM474.7 33.2h1v1h-1zM474.6 32.1h1v1h-1zM474.3 90.9h1v1h-1zM474.3 90.5h1v1h-1zM475.2 36.3h1v1h-1zM475.1 90.1h1v1h-1zM475.1 90.7h1v1h-1zM474.9 92.9h1v1h-1zM475.4 90.6h1v1h-1zM475.7 35.4h1v1h-1zM475.5 90.4h1v1h-1zM475.6 92.7h1v1h-1zM476.0 39.2h1v1h-1zM476.1 36.2h1v1h-1zM475.9 36.7h1v1h-1zM476.2 32.5h1v1h-1zM476.6 36.7h1v1h-1zM476.2 35.7h1v1h-1zM476.4 36.5h1v1h-1zM476.5 37.0h1v1h-1zM477.0 38.6h1v1h-1zM476.9 91.6h1v1h-1zM477.0 35.5h1v1h-1zM476.9 37.6h1v1h-1zM477.5 90.9h1v1h-1zM477.6 38.6h1v1h-1zM477.5 38.2h1v1h-1zM477.3 36.4h1v1h-1zM478.0 97.8h1v1h-1zM478.0 37.5h1v1h-1zM478.0 93.7h1v1h-1zM478.2 37.1h1v1h-1zM478.2 92.3h1v1h-1zM478.7 93.1h1v1h-1zM478.6 92.7h1v1h-1zM478.3 34.6h1v1h-1zM478.8 91.0h1v1h-1zM479.1 91.3h1v1h-1zM478.9 92.2h1v1h-1zM478.9 35.9h1v1h-1zM479.6 34.0h1v1h-1zM479.5 32.0h1v1h-1zM479.3 90.5h1v1h-1zM479.6 36.2h1v1h-1zM479.8 34.0h1v1h-1zM480.1 94.4h1v1h-1zM480.2 35.8h1v1h-1zM479.7 89.2h1v1h-1zM480.2 33.3h1v1h-1zM480.4 88.2h1v1h-1zM480.7 30.4h1v1h-1zM480.7 90.3h1v1h-1zM481.0 31.7h1v1h-1zM480.9 89.9h1v1h-1zM480.7 88.1h1v1h-1zM481.0 32.0h1v1h-1zM481.5 90.8h1v1h-1zM481.6 88.1h1v1h-1zM481.4 89.0h1v1h-1zM481.5 90.5h1v1h-1zM482.0 28.1h1v1h-1zM481.7 91.0h1v1h-1zM481.7 30.6h1v1h-1zM481.8 30.4h1v1h-1zM482.5 89.9h1v1h-1zM482.3 30.0h1v1h-1zM482.6 87.5h1v1h-1zM482.6 29.9h1v1h-1zM483.0 32.1h1v1h-1zM482.8 87.9h1v1h-1zM482.8 88.1h1v1h-1zM482.8 89.8h1v1h-1zM483.5 91.3h1v1h-1zM483.5 32.6h1v1h-1zM483.4 87.4h1v1h-1zM483.4 31.5h1v1h-1zM483.8 34.0h1v1h-1zM483.8 32.0h1v1h-1zM484.0 85.9h1v1h-1zM484.1 29.8h1v1h-1zM484.4 30.8h1v1h-1zM484.5 30.8h1v1h-1zM484.3 31.4h1v1h-1zM484.7 33.5h1v1h-1zM484.9 85.8h1v1h-1zM484.8 33.5h1v1h-1zM484.8 84.1h1v1h-1zM485.2 30.5h1v1h-1zM485.4 30.3h1v1h-1zM485.7 33.7h1v1h-1zM485.4 29.3h1v1h-1zM485.4 31.8h1v1h-1zM485.7 86.4h1v1h-1zM486.1 89.3h1v1h-1zM486.2 84.2h1v1h-1zM485.9 33.6h1v1h-1zM486.7 34.7h1v1h-1zM486.2 35.1h1v1h-1zM486.4 84.8h1v1h-1zM486.4 85.5h1v1h-1zM486.8 88.1h1v1h-1zM487.2 31.4h1v1h-1zM486.9 34.2h1v1h-1zM487.0 35.0h1v1h-1zM487.4 32.7h1v1h-1zM487.6 87.3h1v1h-1zM487.3 32.5h1v1h-1zM487.6 33.7h1v1h-1zM487.9 85.2h1v1h-1zM487.9 86.2h1v1h-1zM488.2 86.1h1v1h-1zM487.9 86.5h1v1h-1zM488.6 88.7h1v1h-1zM488.6 34.9h1v1h-1zM488.5 86.3h1v1h-1zM488.5 33.0h1v1h-1zM489.1 33.5h1v1h-1zM488.8 34.1h1v1h-1zM488.7 87.0h1v1h-1zM489.1 90.1h1v1h-1zM489.6 85.2h1v1h-1zM489.5 34.9h1v1h-1zM489.3 87.7h1v1h-1zM489.2 87.0h1v1h-1zM489.9 88.0h1v1h-1zM490.2 35.2h1v1h-1zM490.0 86.9h1v1h-1zM490.2 88.1h1v1h-1zM490.6 89.5h1v1h-1zM490.3 88.6h1v1h-1zM490.6 34.0h1v1h-1zM490.6 31.5h1v1h-1zM490.8 87.9h1v1h-1zM491.1 30.9h1v1h-1zM491.1 35.1h1v1h-1zM490.7 36.0h1v1h-1zM491.6 36.8h1v1h-1zM491.7 35.6h1v1h-1zM491.2 89.8h1v1h-1zM491.4 36.9h1v1h-1zM491.7 92.9h1v1h-1zM491.8 92.7h1v1h-1zM491.8 89.4h1v1h-1zM492.0 37.6h1v1h-1zM492.5 89.3h1v1h-1zM492.5 91.1h1v1h-1zM492.6 34.1h1v1h-1zM492.3 93.8h1v1h-1zM492.8 90.9h1v1h-1zM493.1 92.4h1v1h-1zM492.8 95.2h1v1h-1zM493.2 93.7h1v1h-1zM493.2 93.3h1v1h-1zM493.2 93.8h1v1h-1zM493.3 91.3h1v1h-1zM493.4 35.2h1v1h-1zM494.2 33.6h1v1h-1zM493.9 34.0h1v1h-1zM493.8 93.9h1v1h-1zM493.8 35.5h1v1h-1zM494.4 90.8h1v1h-1zM494.5 34.1h1v1h-1zM494.6 91.5h1v1h-1zM494.4 89.8h1v1h-1zM494.7 91.7h1v1h-1zM494.9 29.8h1v1h-1zM495.0 87.5h1v1h-1zM494.9 33.0h1v1h-1zM495.6 85.5h1v1h-1zM495.2 87.5h1v1h-1zM495.3 28.5h1v1h-1zM495.5 88.6h1v1h-1zM496.0 26.2h1v1h-1zM496.2 85.2h1v1h-1zM495.8 28.5h1v1h-1zM496.1 28.0h1v1h-1zM496.2 29.6h1v1h-1zM496.4 25.9h1v1h-1zM496.5 84.9h1v1h-1zM496.5 27.9h1v1h-1zM496.9 84.0h1v1h-1zM496.8 84.9h1v1h-1zM497.1 27.5h1v1h-1zM496.7 26.6h1v1h-1zM497.4 22.8h1v1h-1zM497.2 24.8h1v1h-1zM497.3 82.3h1v1h-1zM497.5 80.3h1v1h-1zM498.0 82.1h1v1h-1zM498.2 84.4h1v1h-1zM497.7 83.7h1v1h-1zM498.0 25.6h1v1h-1zM498.3 79.1h1v1h-1zM498.5 84.2h1v1h-1zM498.3 80.4h1v1h-1zM498.4 82.7h1v1h-1zM499.0 79.9h1v1h-1zM498.8 81.6h1v1h-1zM498.8 25.6h1v1h-1zM499.0 84.5h1v1h-1zM499.7 24.1h1v1h-1zM499.4 24.2h1v1h-1zM499.3 22.1h1v1h-1zM499.7 21.9h1v1h-1zM499.8 79.7h1v1h-1zM499.8 81.5h1v1h-1zM499.9 81.0h1v1h-1zM500.0 23.3h1v1h-1zM500.6 25.0h1v1h-1zM500.5 24.5h1v1h-1zM500.6 82.4h1v1h-1zM500.5 25.3h1v1h-1zM501.1 79.8h1v1h-1zM501.2 80.0h1v1h-1zM500.9 24.7h1v1h-1zM501.2 23.9h1v1h-1zM501.5 81.1h1v1h-1zM501.6 83.6h1v1h-1zM501.5 81.8h1v1h-1zM501.5 82.9h1v1h-1zM502.0 24.7h1v1h-1zM502.0 24.1h1v1h-1zM502.1 83.0h1v1h-1zM501.8 24.1h1v1h-1zM502.4 23.9h1v1h-1zM502.3 21.0h1v1h-1zM502.3 82.3h1v1h-1zM502.7 23.0h1v1h-1zM502.7 81.8h1v1h-1zM502.9 83.4h1v1h-1zM502.7 25.8h1v1h-1zM503.0 82.8h1v1h-1zM503.4 22.6h1v1h-1zM503.2 84.4h1v1h-1zM503.3 83.6h1v1h-1zM503.5 83.2h1v1h-1zM504.0 24.2h1v1h-1zM504.2 20.3h1v1h-1zM503.9 24.9h1v1h-1zM503.9 84.3h1v1h-1zM504.5 23.9h1v1h-1zM504.4 22.3h1v1h-1zM504.3 84.6h1v1h-1zM504.3 23.4h1v1h-1zM504.9 84.8h1v1h-1zM505.0 23.4h1v1h-1zM505.0 25.3h1v1h-1zM504.7 23.1h1v1h-1zM505.6 88.7h1v1h-1zM505.5 85.6h1v1h-1zM505.7 24.5h1v1h-1zM505.4 87.3h1v1h-1zM506.0 22.3h1v1h-1zM506.0 86.1h1v1h-1zM505.9 24.1h1v1h-1zM505.9 23.0h1v1h-1zM506.6 23.7h1v1h-1zM506.6 85.4h1v1h-1zM506.5 87.4h1v1h-1zM506.5 89.1h1v1h-1zM506.7 86.7h1v1h-1zM506.8 86.0h1v1h-1zM507.1 89.8h1v1h-1zM506.9 85.8h1v1h-1zM507.4 23.4h1v1h-1zM507.5 87.7h1v1h-1zM507.5 84.0h1v1h-1zM507.4 25.1h1v1h-1zM507.8 90.1h1v1h-1zM507.9 85.1h1v1h-1zM508.0 88.5h1v1h-1zM507.8 24.8h1v1h-1zM508.3 25.8h1v1h-1zM508.3 22.8h1v1h-1zM508.3 24.5h1v1h-1zM508.4 85.3h1v1h-1zM508.9 84.8h1v1h-1zM509.2 86.2h1v1h-1zM508.7 84.3h1v1h-1zM509.1 21.4h1v1h-1zM509.5 87.6h1v1h-1zM509.5 25.0h1v1h-1zM509.4 82.7h1v1h-1zM509.7 25.1h1v1h-1zM510.0 83.2h1v1h-1zM510.1 25.3h1v1h-1zM510.1 86.4h1v1h-1zM509.7 84.2h1v1h-1zM510.6 23.6h1v1h-1zM510.6 87.4h1v1h-1zM510.3 24.6h1v1h-1zM510.3 84.8h1v1h-1zM510.9 22.8h1v1h-1zM510.9 84.3h1v1h-1zM511.2 84.2h1v1h-1zM510.8 85.7h1v1h-1zM511.4 83.3h1v1h-1zM511.6 24.0h1v1h-1zM511.5 24.6h1v1h-1zM511.4 85.3h1v1h-1zM511.9 26.3h1v1h-1zM511.9 82.1h1v1h-1zM512.0 83.6h1v1h-1zM511.8 21.7h1v1h-1zM512.7 22.2h1v1h-1zM512.4 81.8h1v1h-1zM512.6 81.5h1v1h-1zM512.4 83.7h1v1h-1zM513.0 82.3h1v1h-1zM512.8 22.3h1v1h-1zM513.0 80.5h1v1h-1zM512.7 24.5h1v1h-1zM513.3 82.0h1v1h-1zM513.5 24.6h1v1h-1zM513.7 85.5h1v1h-1zM513.7 80.7h1v1h-1zM513.9 82.1h1v1h-1zM514.0 81.3h1v1h-1zM514.0 21.6h1v1h-1zM513.9 23.4h1v1h-1zM514.7 22.2h1v1h-1zM514.4 81.1h1v1h-1zM514.7 81.2h1v1h-1zM514.5 80.4h1v1h-1zM515.2 80.3h1v1h-1zM514.9 24.1h1v1h-1zM515.2 21.4h1v1h-1zM514.9 83.1h1v1h-1zM515.6 78.7h1v1h-1zM515.5 24.5h1v1h-1zM515.5 23.8h1v1h-1zM515.3 78.5h1v1h-1zM516.1 82.6h1v1h-1zM516.0 81.5h1v1h-1zM515.8 82.0h1v1h-1zM516.2 79.3h1v1h-1zM516.5 78.3h1v1h-1zM516.4 26.8h1v1h-1zM516.5 25.2h1v1h-1zM516.5 79.0h1v1h-1zM516.8 76.6h1v1h-1zM516.9 81.7h1v1h-1zM517.0 22.9h1v1h-1zM517.1 77.3h1v1h-1zM517.6 79.0h1v1h-1zM517.5 76.8h1v1h-1zM517.5 25.6h1v1h-1zM517.4 76.2h1v1h-1z" fill="#2bab89"/>
</g>
<rect x="315.20" y="12.70" width="202.60" height="149.80" fill="none" stroke="#c4c4c4" stroke-width="1.2"/>
<line x1="315.20" y1="162.50" x2="315.20" y2="160.30" stroke="#8a8a8a" stroke-width="0.8" />
<line x1="315.20" y1="12.70" x2="315.20" y2="14.90" stroke="#8a8a8a" stroke-width="0.8" />
<line x1="396.24" y1="162.50" x2="396.24" y2="160.30" stroke="#8a8a8a" stroke-width="0.8" />
<line x1="396.24" y1="12.70" x2="396.24" y2="14.90" stroke="#8a8a8a" stroke-width="0.8" />
<line x1="477.28" y1="162.50" x2="477.28" y2="160.30" stroke="#8a8a8a" stroke-width="0.8" />
<line x1="477.28" y1="12.70" x2="477.28" y2="14.90" stroke="#8a8a8a" stroke-width="0.8" />
<line x1="315.20" y1="138.40" x2="317.40" y2="138.40" stroke="#8a8a8a" stroke-width="0.8" />
<line x1="517.80" y1="138.40" x2="515.60" y2="138.40" stroke="#8a8a8a" stroke-width="0.8" />
<line x1="315.20" y1="100.30" x2="317.40" y2="100.30" stroke="#8a8a8a" stroke-width="0.8" />
<line x1="517.80" y1="100.30" x2="515.60" y2="100.30" stroke="#8a8a8a" stroke-width="0.8" />
<line x1="315.20" y1="62.20" x2="317.40" y2="62.20" stroke="#8a8a8a" stroke-width="0.8" />
<line x1="517.80" y1="62.20" x2="515.60" y2="62.20" stroke="#8a8a8a" stroke-width="0.8" />
<line x1="315.20" y1="24.10" x2="317.40" y2="24.10" stroke="#8a8a8a" stroke-width="0.8" />
<line x1="517.80" y1="24.10" x2="515.60" y2="24.10" stroke="#8a8a8a" stroke-width="0.8" />
<line x1="315.20" y1="62.20" x2="517.80" y2="62.20" stroke="#8a8aae" stroke-width="0.9" />
<text x="310.78" y="143.00" font-size="12.4" textLength="19.72" lengthAdjust="spacingAndGlyphs" text-anchor="end" fill="#1c1c1c" >-20</text>
<text x="310.78" y="104.90" font-size="12.4" textLength="19.72" lengthAdjust="spacingAndGlyphs" text-anchor="end" fill="#1c1c1c" >-10</text>
<text x="310.77" y="66.80" font-size="12.4" textLength="7.17" lengthAdjust="spacingAndGlyphs" text-anchor="end" fill="#1c1c1c" >0</text>
<text x="310.78" y="28.70" font-size="12.4" textLength="14.34" lengthAdjust="spacingAndGlyphs" text-anchor="end" fill="#1c1c1c" >10</text>
<text x="315.20" y="181.00" font-size="12.4" textLength="7.17" lengthAdjust="spacingAndGlyphs" text-anchor="middle" fill="#1c1c1c" >0</text>
<text x="396.24" y="181.00" font-size="12.4" textLength="21.52" lengthAdjust="spacingAndGlyphs" text-anchor="middle" fill="#1c1c1c" >200</text>
<text x="477.28" y="181.00" font-size="12.4" textLength="21.52" lengthAdjust="spacingAndGlyphs" text-anchor="middle" fill="#1c1c1c" >400</text>
<text x="372.58" y="198.90" font-size="13.2" textLength="88.15" lengthAdjust="spacingAndGlyphs" fill="#1c1c1c" font-family="Liberation Sans"  >t (time) - units</text>
<text transform="translate(285.2,98.9) rotate(-90)" font-size="14.2" textLength="21.6" lengthAdjust="spacingAndGlyphs" fill="#1c1c1c"><tspan font-family="DejaVu Sans" style="stroke-width:0.05px">Δ</tspan>N</text>
<text x="478.3" y="58.4" font-size="12.6" fill="#8f8fab" style="stroke:none" textLength="36.5" lengthAdjust="spacingAndGlyphs"><tspan>Δ</tspan>N=0</text>
<rect x="385.3" y="141.3" width="127.3" height="16.1" fill="#fff" stroke="#c4c4c4" stroke-width="1"/>
<rect x="396.2" y="149.0" width="1.2" height="1.2" fill="#2bab89"/>
<text x="407.97" y="153.20" font-size="12.0" textLength="102.66" lengthAdjust="spacingAndGlyphs" fill="#1c1c1c" font-family="Liberation Sans"  >CM Raw residuals</text>
<text x="396.40" y="219.10" font-size="14.7" textLength="16.35" lengthAdjust="spacingAndGlyphs" text-anchor="middle" font-family="Liberation Serif" font-weight="bold" fill="#1a1a1a" style="stroke:none">(b)</text>
<rect x="54.46" y="331.00" width="5.96" height="1.50" fill="#b6cba2" stroke="#98ad86" stroke-width="0.7"/>
<rect x="60.42" y="320.50" width="5.96" height="12.00" fill="#b6cba2" stroke="#98ad86" stroke-width="0.7"/>
<rect x="66.38" y="303.30" width="5.96" height="29.20" fill="#b6cba2" stroke="#98ad86" stroke-width="0.7"/>
<rect x="72.34" y="304.30" width="5.96" height="28.20" fill="#b6cba2" stroke="#98ad86" stroke-width="0.7"/>
<rect x="78.30" y="307.30" width="5.96" height="25.20" fill="#b6cba2" stroke="#98ad86" stroke-width="0.7"/>
<rect x="84.26" y="304.20" width="5.96" height="28.30" fill="#b6cba2" stroke="#98ad86" stroke-width="0.7"/>
<rect x="90.22" y="307.30" width="5.96" height="25.20" fill="#b6cba2" stroke="#98ad86" stroke-width="0.7"/>
<rect x="96.18" y="309.10" width="5.96" height="23.40" fill="#b6cba2" stroke="#98ad86" stroke-width="0.7"/>
<rect x="102.14" y="309.10" width="5.96" height="23.40" fill="#b6cba2" stroke="#98ad86" stroke-width="0.7"/>
<rect x="108.10" y="299.60" width="5.96" height="32.90" fill="#b6cba2" stroke="#98ad86" stroke-width="0.7"/>
<rect x="114.06" y="280.40" width="5.96" height="52.10" fill="#b6cba2" stroke="#98ad86" stroke-width="0.7"/>
<rect x="120.02" y="260.00" width="5.96" height="72.50" fill="#b6cba2" stroke="#98ad86" stroke-width="0.7"/>
<rect x="125.98" y="252.20" width="5.96" height="80.30" fill="#b6cba2" stroke="#98ad86" stroke-width="0.7"/>
<rect x="131.94" y="256.50" width="5.96" height="76.00" fill="#b6cba2" stroke="#98ad86" stroke-width="0.7"/>
<rect x="137.90" y="273.50" width="5.96" height="59.00" fill="#b6cba2" stroke="#98ad86" stroke-width="0.7"/>
<rect x="143.86" y="301.20" width="5.96" height="31.30" fill="#b6cba2" stroke="#98ad86" stroke-width="0.7"/>
<rect x="149.82" y="322.60" width="5.96" height="9.90" fill="#b6cba2" stroke="#98ad86" stroke-width="0.7"/>
<rect x="155.78" y="330.50" width="5.96" height="2.00" fill="#b6cba2" stroke="#98ad86" stroke-width="0.7"/>
<rect x="161.74" y="332.00" width="5.96" height="0.50" fill="#b6cba2" stroke="#98ad86" stroke-width="0.7"/>
<rect x="42.50" y="232.40" width="130.70" height="100.10" fill="none" stroke="#c4c4c4" stroke-width="1.2"/>
<line x1="74.70" y1="332.50" x2="74.70" y2="330.70" stroke="#8a8a8a" stroke-width="0.8" />
<line x1="74.70" y1="232.40" x2="74.70" y2="234.20" stroke="#8a8a8a" stroke-width="0.8" />
<line x1="111.40" y1="332.50" x2="111.40" y2="330.70" stroke="#8a8a8a" stroke-width="0.8" />
<line x1="111.40" y1="232.40" x2="111.40" y2="234.20" stroke="#8a8a8a" stroke-width="0.8" />
<line x1="148.10" y1="332.50" x2="148.10" y2="330.70" stroke="#8a8a8a" stroke-width="0.8" />
<line x1="148.10" y1="232.40" x2="148.10" y2="234.20" stroke="#8a8a8a" stroke-width="0.8" />
<line x1="42.50" y1="332.50" x2="44.30" y2="332.50" stroke="#8a8a8a" stroke-width="0.8" />
<line x1="173.20" y1="332.50" x2="171.40" y2="332.50" stroke="#8a8a8a" stroke-width="0.8" />
<line x1="42.50" y1="312.52" x2="44.30" y2="312.52" stroke="#8a8a8a" stroke-width="0.8" />
<line x1="173.20" y1="312.52" x2="171.40" y2="312.52" stroke="#8a8a8a" stroke-width="0.8" />
<line x1="42.50" y1="292.54" x2="44.30" y2="292.54" stroke="#8a8a8a" stroke-width="0.8" />
<line x1="173.20" y1="292.54" x2="171.40" y2="292.54" stroke="#8a8a8a" stroke-width="0.8" />
<line x1="42.50" y1="272.56" x2="44.30" y2="272.56" stroke="#8a8a8a" stroke-width="0.8" />
<line x1="173.20" y1="272.56" x2="171.40" y2="272.56" stroke="#8a8a8a" stroke-width="0.8" />
<line x1="42.50" y1="252.58" x2="44.30" y2="252.58" stroke="#8a8a8a" stroke-width="0.8" />
<line x1="173.20" y1="252.58" x2="171.40" y2="252.58" stroke="#8a8a8a" stroke-width="0.8" />
<line x1="42.50" y1="232.60" x2="44.30" y2="232.60" stroke="#8a8a8a" stroke-width="0.8" />
<line x1="173.20" y1="232.60" x2="171.40" y2="232.60" stroke="#8a8a8a" stroke-width="0.8" />
<text x="40.15" y="336.10" font-size="10.4" textLength="5.44" lengthAdjust="spacingAndGlyphs" text-anchor="end" fill="#1c1c1c" style="stroke-width:0.25px">0</text>
<text x="40.30" y="316.12" font-size="10.4" textLength="19.03" lengthAdjust="spacingAndGlyphs" text-anchor="end" fill="#1c1c1c" style="stroke-width:0.25px">0.02</text>
<text x="40.11" y="296.14" font-size="10.4" textLength="19.03" lengthAdjust="spacingAndGlyphs" text-anchor="end" fill="#1c1c1c" style="stroke-width:0.25px">0.04</text>
<text x="40.20" y="276.16" font-size="10.4" textLength="19.03" lengthAdjust="spacingAndGlyphs" text-anchor="end" fill="#1c1c1c" style="stroke-width:0.25px">0.06</text>
<text x="40.20" y="256.18" font-size="10.4" textLength="19.03" lengthAdjust="spacingAndGlyphs" text-anchor="end" fill="#1c1c1c" style="stroke-width:0.25px">0.08</text>
<text x="40.24" y="236.20" font-size="10.4" textLength="13.59" lengthAdjust="spacingAndGlyphs" text-anchor="end" fill="#1c1c1c" style="stroke-width:0.25px">0.1</text>
<text x="74.70" y="344.60" font-size="10.4" textLength="14.13" lengthAdjust="spacingAndGlyphs" text-anchor="middle" fill="#1c1c1c" style="stroke-width:0.25px">-20</text>
<text x="111.40" y="344.60" font-size="10.4" textLength="14.13" lengthAdjust="spacingAndGlyphs" text-anchor="middle" fill="#1c1c1c" style="stroke-width:0.25px">-10</text>
<text x="148.10" y="344.60" font-size="10.4" textLength="5.44" lengthAdjust="spacingAndGlyphs" text-anchor="middle" fill="#1c1c1c" style="stroke-width:0.25px">0</text>
<text x="107.85" y="356.90" font-size="10.5" textLength="98.35" lengthAdjust="spacingAndGlyphs" text-anchor="middle" fill="#1c1c1c" style="stroke-width:0.25px">CM Raw residuals (x)</text>
<text transform="translate(18.6,282.2) rotate(-90)" font-size="9.6" text-anchor="middle" textLength="62.5" lengthAdjust="spacingAndGlyphs" fill="#1c1c1c" style="stroke-width:0.25px">Frequency(x)</text>
<text x="92.80" y="375.50" font-size="14.7" textLength="14.85" lengthAdjust="spacingAndGlyphs" text-anchor="middle" font-family="Liberation Serif" font-weight="bold" fill="#1a1a1a" style="stroke:none">(c)</text>
<rect x="234.90" y="331.00" width="5.99" height="1.50" fill="#7dd0b7" stroke="#62b199" stroke-width="0.7"/>
<rect x="240.89" y="328.00" width="5.99" height="4.50" fill="#7dd0b7" stroke="#62b199" stroke-width="0.7"/>
<rect x="246.88" y="327.60" width="5.99" height="4.90" fill="#7dd0b7" stroke="#62b199" stroke-width="0.7"/>
<rect x="252.87" y="328.00" width="5.99" height="4.50" fill="#7dd0b7" stroke="#62b199" stroke-width="0.7"/>
<rect x="258.86" y="328.00" width="5.99" height="4.50" fill="#7dd0b7" stroke="#62b199" stroke-width="0.7"/>
<rect x="264.85" y="328.40" width="5.99" height="4.10" fill="#7dd0b7" stroke="#62b199" stroke-width="0.7"/>
<rect x="270.84" y="328.00" width="5.99" height="4.50" fill="#7dd0b7" stroke="#62b199" stroke-width="0.7"/>
<rect x="276.83" y="322.60" width="5.99" height="9.90" fill="#7dd0b7" stroke="#62b199" stroke-width="0.7"/>
<rect x="282.82" y="309.20" width="5.99" height="23.30" fill="#7dd0b7" stroke="#62b199" stroke-width="0.7"/>
<rect x="288.81" y="285.10" width="5.99" height="47.40" fill="#7dd0b7" stroke="#62b199" stroke-width="0.7"/>
<rect x="294.80" y="252.00" width="5.99" height="80.50" fill="#7dd0b7" stroke="#62b199" stroke-width="0.7"/>
<rect x="300.79" y="232.40" width="5.99" height="100.10" fill="#7dd0b7" stroke="#62b199" stroke-width="0.7"/>
<rect x="306.78" y="252.60" width="5.99" height="79.90" fill="#7dd0b7" stroke="#62b199" stroke-width="0.7"/>
<rect x="312.77" y="293.00" width="5.99" height="39.50" fill="#7dd0b7" stroke="#62b199" stroke-width="0.7"/>
<rect x="318.76" y="321.10" width="5.99" height="11.40" fill="#7dd0b7" stroke="#62b199" stroke-width="0.7"/>
<rect x="324.75" y="331.20" width="5.99" height="1.30" fill="#7dd0b7" stroke="#62b199" stroke-width="0.7"/>
<rect x="330.74" y="332.20" width="5.99" height="0.30" fill="#7dd0b7" stroke="#62b199" stroke-width="0.7"/>
<rect x="223.40" y="232.40" width="131.30" height="100.10" fill="none" stroke="#c4c4c4" stroke-width="1.2"/>
<line x1="249.34" y1="332.50" x2="249.34" y2="330.70" stroke="#8a8a8a" stroke-width="0.8" />
<line x1="249.34" y1="232.40" x2="249.34" y2="234.20" stroke="#8a8a8a" stroke-width="0.8" />
<line x1="277.77" y1="332.50" x2="277.77" y2="330.70" stroke="#8a8a8a" stroke-width="0.8" />
<line x1="277.77" y1="232.40" x2="277.77" y2="234.20" stroke="#8a8a8a" stroke-width="0.8" />
<line x1="306.20" y1="332.50" x2="306.20" y2="330.70" stroke="#8a8a8a" stroke-width="0.8" />
<line x1="306.20" y1="232.40" x2="306.20" y2="234.20" stroke="#8a8a8a" stroke-width="0.8" />
<line x1="334.63" y1="332.50" x2="334.63" y2="330.70" stroke="#8a8a8a" stroke-width="0.8" />
<line x1="334.63" y1="232.40" x2="334.63" y2="234.20" stroke="#8a8a8a" stroke-width="0.8" />
<line x1="223.40" y1="332.50" x2="225.20" y2="332.50" stroke="#8a8a8a" stroke-width="0.8" />
<line x1="354.70" y1="332.50" x2="352.90" y2="332.50" stroke="#8a8a8a" stroke-width="0.8" />
<line x1="223.40" y1="314.72" x2="225.20" y2="314.72" stroke="#8a8a8a" stroke-width="0.8" />
<line x1="354.70" y1="314.72" x2="352.90" y2="314.72" stroke="#8a8a8a" stroke-width="0.8" />
<line x1="223.40" y1="296.94" x2="225.20" y2="296.94" stroke="#8a8a8a" stroke-width="0.8" />
<line x1="354.70" y1="296.94" x2="352.90" y2="296.94" stroke="#8a8a8a" stroke-width="0.8" />
<line x1="223.40" y1="279.16" x2="225.20" y2="279.16" stroke="#8a8a8a" stroke-width="0.8" />
<line x1="354.70" y1="279.16" x2="352.90" y2="279.16" stroke="#8a8a8a" stroke-width="0.8" />
<line x1="223.40" y1="261.38" x2="225.20" y2="261.38" stroke="#8a8a8a" stroke-width="0.8" />
<line x1="354.70" y1="261.38" x2="352.90" y2="261.38" stroke="#8a8a8a" stroke-width="0.8" />
<line x1="223.40" y1="243.60" x2="225.20" y2="243.60" stroke="#8a8a8a" stroke-width="0.8" />
<line x1="354.70" y1="243.60" x2="352.90" y2="243.60" stroke="#8a8a8a" stroke-width="0.8" />
<text x="220.35" y="336.10" font-size="10.4" textLength="5.44" lengthAdjust="spacingAndGlyphs" text-anchor="end" fill="#1c1c1c" style="stroke-width:0.25px">0</text>
<text x="220.50" y="318.32" font-size="10.4" textLength="19.03" lengthAdjust="spacingAndGlyphs" text-anchor="end" fill="#1c1c1c" style="stroke-width:0.25px">0.02</text>
<text x="220.31" y="300.54" font-size="10.4" textLength="19.03" lengthAdjust="spacingAndGlyphs" text-anchor="end" fill="#1c1c1c" style="stroke-width:0.25px">0.04</text>
<text x="220.40" y="282.76" font-size="10.4" textLength="19.03" lengthAdjust="spacingAndGlyphs" text-anchor="end" fill="#1c1c1c" style="stroke-width:0.25px">0.06</text>
<text x="220.40" y="264.98" font-size="10.4" textLength="19.03" lengthAdjust="spacingAndGlyphs" text-anchor="end" fill="#1c1c1c" style="stroke-width:0.25px">0.08</text>
<text x="220.44" y="247.20" font-size="10.4" textLength="13.59" lengthAdjust="spacingAndGlyphs" text-anchor="end" fill="#1c1c1c" style="stroke-width:0.25px">0.1</text>
<text x="249.34" y="344.60" font-size="10.4" textLength="14.13" lengthAdjust="spacingAndGlyphs" text-anchor="middle" fill="#1c1c1c" style="stroke-width:0.25px">-20</text>
<text x="277.77" y="344.60" font-size="10.4" textLength="14.13" lengthAdjust="spacingAndGlyphs" text-anchor="middle" fill="#1c1c1c" style="stroke-width:0.25px">-10</text>
<text x="306.20" y="344.60" font-size="10.4" textLength="5.44" lengthAdjust="spacingAndGlyphs" text-anchor="middle" fill="#1c1c1c" style="stroke-width:0.25px">0</text>
<text x="334.63" y="344.60" font-size="10.4" textLength="10.87" lengthAdjust="spacingAndGlyphs" text-anchor="middle" fill="#1c1c1c" style="stroke-width:0.25px">10</text>
<text x="288.55" y="356.90" font-size="10.5" textLength="98.35" lengthAdjust="spacingAndGlyphs" text-anchor="middle" fill="#1c1c1c" style="stroke-width:0.25px">CM Raw residuals (x)</text>
<text transform="translate(199.4,282.4) rotate(-90)" font-size="9.6" text-anchor="middle" textLength="62.5" lengthAdjust="spacingAndGlyphs" fill="#1c1c1c" style="stroke-width:0.25px">Frequency(x)</text>
<text x="273.60" y="375.50" font-size="14.7" textLength="16.35" lengthAdjust="spacingAndGlyphs" text-anchor="middle" font-family="Liberation Serif" font-weight="bold" fill="#1a1a1a" style="stroke:none">(d)</text>
<rect x="416.68" y="331.60" width="6.71" height="0.90" fill="#02a062" stroke="#0a8a55" stroke-width="0.7"/>
<rect x="423.39" y="329.50" width="6.71" height="3.00" fill="#02a062" stroke="#0a8a55" stroke-width="0.7"/>
<rect x="430.10" y="322.20" width="6.71" height="10.30" fill="#02a062" stroke="#0a8a55" stroke-width="0.7"/>
<rect x="436.81" y="310.10" width="6.71" height="22.40" fill="#02a062" stroke="#0a8a55" stroke-width="0.7"/>
<rect x="443.52" y="289.80" width="6.71" height="42.70" fill="#02a062" stroke="#0a8a55" stroke-width="0.7"/>
<rect x="450.23" y="263.20" width="6.71" height="69.30" fill="#02a062" stroke="#0a8a55" stroke-width="0.7"/>
<rect x="456.94" y="239.00" width="6.71" height="93.50" fill="#02a062" stroke="#0a8a55" stroke-width="0.7"/>
<rect x="463.65" y="231.50" width="6.71" height="101.00" fill="#02a062" stroke="#0a8a55" stroke-width="0.7"/>
<rect x="470.36" y="245.90" width="6.71" height="86.60" fill="#02a062" stroke="#0a8a55" stroke-width="0.7"/>
<rect x="477.07" y="273.40" width="6.71" height="59.10" fill="#02a062" stroke="#0a8a55" stroke-width="0.7"/>
<rect x="483.78" y="300.40" width="6.71" height="32.10" fill="#02a062" stroke="#0a8a55" stroke-width="0.7"/>
<rect x="490.49" y="319.00" width="6.71" height="13.50" fill="#02a062" stroke="#0a8a55" stroke-width="0.7"/>
<rect x="497.20" y="329.00" width="6.71" height="3.50" fill="#02a062" stroke="#0a8a55" stroke-width="0.7"/>
<rect x="503.91" y="331.80" width="6.71" height="0.70" fill="#02a062" stroke="#0a8a55" stroke-width="0.7"/>
<polyline points="396.45,332.50 396.91,332.50 397.37,332.50 397.83,332.50 398.29,332.50 398.75,332.50 399.21,332.50 399.67,332.50 400.14,332.50 400.60,332.50 401.06,332.50 401.52,332.50 401.98,332.50 402.44,332.50 402.90,332.50 403.36,332.50 403.82,332.50 404.28,332.50 404.74,332.50 405.20,332.49 405.66,332.49 406.12,332.49 406.59,332.49 407.05,332.49 407.51,332.49 407.97,332.49 408.43,332.49 408.89,332.48 409.35,332.48 409.81,332.48 410.27,332.47 410.73,332.47 411.19,332.47 411.65,332.46 412.11,332.46 412.57,332.45 413.04,332.44 413.50,332.44 413.96,332.43 414.42,332.42 414.88,332.41 415.34,332.39 415.80,332.38 416.26,332.36 416.72,332.34 417.18,332.32 417.64,332.30 418.10,332.27 418.56,332.25 419.02,332.21 419.49,332.18 419.95,332.14 420.41,332.10 420.87,332.05 421.33,332.00 421.79,331.94 422.25,331.87 422.71,331.80 423.17,331.72 423.63,331.63 424.09,331.54 424.55,331.43 425.01,331.32 425.47,331.19 425.93,331.05 426.40,330.90 426.86,330.74 427.32,330.56 427.78,330.37 428.24,330.16 428.70,329.93 429.16,329.68 429.62,329.41 430.08,329.12 430.54,328.81 431.00,328.47 431.46,328.11 431.92,327.72 432.38,327.30 432.85,326.86 433.31,326.38 433.77,325.87 434.23,325.32 434.69,324.74 435.15,324.12 435.61,323.46 436.07,322.76 436.53,322.02 436.99,321.24 437.45,320.41 437.91,319.53 438.37,318.61 438.83,317.64 439.30,316.62 439.76,315.56 440.22,314.44 440.68,313.26 441.14,312.04 441.60,310.77 442.06,309.44 442.52,308.06 442.98,306.62 443.44,305.14 443.90,303.60 444.36,302.01 444.82,300.37 445.28,298.68 445.75,296.95 446.21,295.17 446.67,293.35 447.13,291.48 447.59,289.58 448.05,287.64 448.51,285.67 448.97,283.66 449.43,281.64 449.89,279.58 450.35,277.51 450.81,275.43 451.27,273.34 451.73,271.24 452.19,269.14 452.66,267.04 453.12,264.95 453.58,262.88 454.04,260.83 454.50,258.80 454.96,256.81 455.42,254.85 455.88,252.93 456.34,251.06 456.80,249.24 457.26,247.48 457.72,245.79 458.18,244.16 458.64,242.61 459.11,241.14 459.57,239.75 460.03,238.45 460.49,237.25 460.95,236.14 461.41,235.13 461.87,234.22 462.33,233.43 462.79,232.74 463.25,232.16 463.71,231.70 464.17,231.35 464.63,231.12 465.09,231.01 465.56,231.02 466.02,231.14 466.48,231.38 466.94,231.74 467.40,232.22 467.86,232.81 468.32,233.51 468.78,234.32 469.24,235.23 469.70,236.25 470.16,237.37 470.62,238.59 471.08,239.90 471.54,241.30 472.01,242.78 472.47,244.34 472.93,245.97 473.39,247.67 473.85,249.44 474.31,251.26 474.77,253.14 475.23,255.06 475.69,257.02 476.15,259.02 476.61,261.05 477.07,263.11 477.53,265.18 477.99,267.27 478.46,269.36 478.92,271.46 479.38,273.56 479.84,275.66 480.30,277.74 480.76,279.81 481.22,281.86 481.68,283.88 482.14,285.88 482.60,287.85 483.06,289.79 483.52,291.69 483.98,293.55 484.44,295.36 484.90,297.14 485.37,298.87 485.83,300.55 486.29,302.18 486.75,303.77 487.21,305.30 487.67,306.78 488.13,308.21 488.59,309.58 489.05,310.91 489.51,312.18 489.97,313.39 490.43,314.56 490.89,315.67 491.35,316.74 491.82,317.75 492.28,318.71 492.74,319.63 493.20,320.50 493.66,321.32 494.12,322.10 494.58,322.84 495.04,323.53 495.50,324.19 495.96,324.80 496.42,325.38 496.88,325.92 497.34,326.43 497.80,326.91 498.27,327.35 498.73,327.77 499.19,328.15 499.65,328.51 500.11,328.85 500.57,329.15 501.03,329.44 501.49,329.71 501.95,329.95 502.41,330.18 502.87,330.39 503.33,330.58 503.79,330.76 504.25,330.92 504.72,331.07 505.18,331.21 505.64,331.33 506.10,331.44 506.56,331.55 507.02,331.64 507.48,331.73 507.94,331.81 508.40,331.88 508.86,331.94 509.32,332.00 509.78,332.05 510.24,332.10 510.70,332.15 511.16,332.18 511.63,332.22 512.09,332.25 512.55,332.28 513.01,332.30 513.47,332.33 513.93,332.35 514.39,332.36 514.85,332.38 515.31,332.39 515.77,332.41 516.23,332.42 516.69,332.43 517.15,332.44 517.61,332.44 518.08,332.45 518.54,332.46 519.00,332.46 519.46,332.47 519.92,332.47 520.38,332.48 520.84,332.48 521.30,332.48 521.76,332.48 522.22,332.49 522.68,332.49 523.14,332.49 523.60,332.49 524.06,332.49 524.53,332.49 524.99,332.49 525.45,332.50 525.91,332.50 526.37,332.50 526.83,332.50 527.29,332.50 527.75,332.50 528.21,332.50 528.67,332.50 529.13,332.50 529.59,332.50 530.05,332.50 530.51,332.50 530.98,332.50 531.44,332.50 531.90,332.50 532.36,332.50 532.82,332.50 533.28,332.50 533.74,332.50 534.20,332.50" fill="none" stroke="#262626" stroke-width="1.1" stroke-linejoin="round" stroke-linecap="round" />
<rect x="391.70" y="230.20" width="144.00" height="102.30" fill="none" stroke="#c4c4c4" stroke-width="1.2"/>
<line x1="420.20" y1="332.50" x2="420.20" y2="330.70" stroke="#8a8a8a" stroke-width="0.8" />
<line x1="420.20" y1="230.20" x2="420.20" y2="232.00" stroke="#8a8a8a" stroke-width="0.8" />
<line x1="467.70" y1="332.50" x2="467.70" y2="330.70" stroke="#8a8a8a" stroke-width="0.8" />
<line x1="467.70" y1="230.20" x2="467.70" y2="232.00" stroke="#8a8a8a" stroke-width="0.8" />
<line x1="515.20" y1="332.50" x2="515.20" y2="330.70" stroke="#8a8a8a" stroke-width="0.8" />
<line x1="515.20" y1="230.20" x2="515.20" y2="232.00" stroke="#8a8a8a" stroke-width="0.8" />
<line x1="391.70" y1="332.50" x2="393.50" y2="332.50" stroke="#8a8a8a" stroke-width="0.8" />
<line x1="535.70" y1="332.50" x2="533.90" y2="332.50" stroke="#8a8a8a" stroke-width="0.8" />
<line x1="391.70" y1="298.53" x2="393.50" y2="298.53" stroke="#8a8a8a" stroke-width="0.8" />
<line x1="535.70" y1="298.53" x2="533.90" y2="298.53" stroke="#8a8a8a" stroke-width="0.8" />
<line x1="391.70" y1="264.56" x2="393.50" y2="264.56" stroke="#8a8a8a" stroke-width="0.8" />
<line x1="535.70" y1="264.56" x2="533.90" y2="264.56" stroke="#8a8a8a" stroke-width="0.8" />
<line x1="391.70" y1="230.59" x2="393.50" y2="230.59" stroke="#8a8a8a" stroke-width="0.8" />
<line x1="535.70" y1="230.59" x2="533.90" y2="230.59" stroke="#8a8a8a" stroke-width="0.8" />
<text x="389.21" y="336.10" font-size="10.4" textLength="4.74" lengthAdjust="spacingAndGlyphs" text-anchor="end" fill="#1c1c1c" style="stroke-width:0.25px">0</text>
<text x="389.29" y="302.13" font-size="10.4" textLength="4.74" lengthAdjust="spacingAndGlyphs" text-anchor="end" fill="#1c1c1c" style="stroke-width:0.25px">1</text>
<text x="389.34" y="268.16" font-size="10.4" textLength="4.74" lengthAdjust="spacingAndGlyphs" text-anchor="end" fill="#1c1c1c" style="stroke-width:0.25px">2</text>
<text x="389.25" y="234.19" font-size="10.4" textLength="4.74" lengthAdjust="spacingAndGlyphs" text-anchor="end" fill="#1c1c1c" style="stroke-width:0.25px">3</text>
<text x="420.20" y="344.60" font-size="10.4" textLength="14.13" lengthAdjust="spacingAndGlyphs" text-anchor="middle" fill="#1c1c1c" style="stroke-width:0.25px">-10</text>
<text x="467.70" y="344.60" font-size="10.4" textLength="5.44" lengthAdjust="spacingAndGlyphs" text-anchor="middle" fill="#1c1c1c" style="stroke-width:0.25px">0</text>
<text x="515.20" y="344.60" font-size="10.4" textLength="10.87" lengthAdjust="spacingAndGlyphs" text-anchor="middle" fill="#1c1c1c" style="stroke-width:0.25px">10</text>
<text x="463.70" y="356.90" font-size="10.5" textLength="98.35" lengthAdjust="spacingAndGlyphs" text-anchor="middle" fill="#1c1c1c" style="stroke-width:0.25px">CM Raw residuals (x)</text>
<text transform="translate(380.4,280.8) rotate(-90)" font-size="9.6" text-anchor="middle" textLength="62.5" lengthAdjust="spacingAndGlyphs" fill="#1c1c1c" style="stroke-width:0.25px">Frequency(x)</text>
<text x="454.20" y="375.50" font-size="14.7" textLength="14.85" lengthAdjust="spacingAndGlyphs" text-anchor="middle" font-family="Liberation Serif" font-weight="bold" fill="#1a1a1a" style="stroke:none">(e)</text>
<line x1="75.50" y1="384.70" x2="75.50" y2="484.80" stroke="#ebebeb" stroke-width="0.9" />
<line x1="113.15" y1="384.70" x2="113.15" y2="484.80" stroke="#ebebeb" stroke-width="0.9" />
<line x1="150.80" y1="384.70" x2="150.80" y2="484.80" stroke="#ebebeb" stroke-width="0.9" />
<line x1="48.10" y1="476.41" x2="173.70" y2="476.41" stroke="#ebebeb" stroke-width="0.9" />
<line x1="48.10" y1="466.08" x2="173.70" y2="466.08" stroke="#ebebeb" stroke-width="0.9" />
<line x1="48.10" y1="451.94" x2="173.70" y2="451.94" stroke="#ebebeb" stroke-width="0.9" />
<line x1="48.10" y1="434.60" x2="173.70" y2="434.60" stroke="#ebebeb" stroke-width="0.9" />
<line x1="48.10" y1="417.26" x2="173.70" y2="417.26" stroke="#ebebeb" stroke-width="0.9" />
<line x1="48.10" y1="403.12" x2="173.70" y2="403.12" stroke="#ebebeb" stroke-width="0.9" />
<line x1="48.10" y1="392.79" x2="173.70" y2="392.79" stroke="#ebebeb" stroke-width="0.9" />
<clipPath id="c48"><rect x="48.1" y="384.7" width="125.6" height="100.10000000000002"/></clipPath>
<g clip-path="url(#c48)">
<line x1="48.10" y1="466.60" x2="173.70" y2="409.20" stroke="#c5d6b5" stroke-width="0.7" stroke-dasharray="3 1.5 0.8 1.5"/>
<line x1="102.00" y1="441.97" x2="134.00" y2="427.34" stroke="#c5d6b5" stroke-width="0.8" />
<polyline points="54.70,484.53 54.86,484.19 55.02,483.85 55.18,483.52 55.34,483.18 55.50,482.85 55.67,482.51 55.83,482.18 56.00,481.84 56.16,481.50 56.33,481.17 56.50,480.83 56.67,480.50 56.84,480.16 57.01,479.83 57.18,479.49 57.35,479.15 57.53,478.82 57.70,478.48 57.88,478.15 58.05,477.81 58.23,477.47 58.41,477.14 58.59,476.80 58.77,476.47 58.95,476.13 59.13,475.80 59.31,475.46 59.50,475.12 59.68,474.79 59.86,474.45 60.05,474.12 60.23,473.78 60.42,473.45 60.61,473.11 60.80,472.77 60.99,472.44 61.18,472.10 61.37,471.77 61.56,471.43 61.75,471.10 61.95,470.76 62.14,470.42 62.34,470.09 62.54,469.75 62.74,469.42 62.94,469.08 63.14,468.74 63.34,468.41 63.55,468.07 63.75,467.74 63.96,467.40 64.17,467.07 64.38,466.73 64.59,466.39 64.81,466.06 65.02,465.72 65.24,465.39 65.46,465.05 65.68,464.72 65.90,464.38 66.12,464.04 66.34,463.71 66.57,463.37 66.80,463.04 67.03,462.70 67.26,462.37 67.50,462.03 67.73,461.69 67.97,461.36 68.22,461.02 68.47,460.69 68.72,460.35 68.97,460.02 69.23,459.68 69.49,459.34 69.76,459.01 70.02,458.67 70.29,458.34 70.54,458.00 70.80,457.66 71.06,457.33 71.32,456.99 71.58,456.66 71.84,456.32 72.11,455.99 72.39,455.65 72.68,455.31 72.97,454.98 73.28,454.64 73.59,454.31 73.92,453.97 74.27,453.64 74.63,453.30 75.01,452.96 75.41,452.63 75.83,452.29 76.28,451.96 76.76,451.62 77.30,451.29 77.89,450.95 78.53,450.61 79.22,450.28 79.96,449.94 80.73,449.61 81.54,449.27 82.39,448.94 83.26,448.60 84.16,448.26 85.09,447.93 86.03,447.59 87.00,447.26 87.97,446.92 88.96,446.58 89.95,446.25 90.95,445.91 91.95,445.58 92.95,445.24 94.04,444.91 95.20,444.57 96.42,444.23 97.70,443.90 99.01,443.56 100.35,443.23 101.71,442.89 103.06,442.56 104.41,442.22 105.73,441.88 107.02,441.55 108.25,441.21 109.43,440.88 110.54,440.54 111.56,440.21 112.49,439.87 113.38,439.53 114.24,439.20 115.09,438.86 115.90,438.53 116.70,438.19 117.47,437.85 118.22,437.52 118.94,437.18 119.65,436.85 120.34,436.51 121.00,436.18 121.65,435.84 122.28,435.50 122.90,435.17 123.49,434.83 124.08,434.50 124.64,434.16 125.19,433.83 125.72,433.49 126.23,433.15 126.73,432.82 127.22,432.48 127.70,432.15 128.17,431.81 128.63,431.48 129.08,431.14 129.52,430.80 129.96,430.47 130.40,430.13 130.83,429.80 131.25,429.46 131.68,429.13 132.10,428.79 132.53,428.45 132.94,428.12 133.36,427.78 133.77,427.45 134.17,427.11 134.57,426.77 134.96,426.44 135.35,426.10 135.73,425.77 136.10,425.43 136.46,425.10 136.82,424.76 137.16,424.42 137.50,424.09 137.82,423.75 138.14,423.42 138.44,423.08 138.74,422.75 139.03,422.41 139.32,422.07 139.60,421.74 139.87,421.40 140.14,421.07 140.40,420.73 140.66,420.40 140.92,420.06 141.18,419.72 141.44,419.39 141.69,419.05 141.95,418.72 142.21,418.38 142.47,418.04 142.74,417.71 143.01,417.37 143.28,417.04 143.55,416.70 143.83,416.37 144.10,416.03 144.38,415.69 144.65,415.36 144.92,415.02 145.20,414.69 145.47,414.35 145.75,414.02 146.02,413.68 146.29,413.34 146.57,413.01 146.84,412.67 147.11,412.34 147.39,412.00 147.66,411.67 147.93,411.33 148.20,410.99 148.47,410.66 148.74,410.32 149.01,409.99 149.27,409.65 149.53,409.32 149.80,408.98 150.06,408.64 150.31,408.31 150.57,407.97 150.83,407.64 151.09,407.30 151.34,406.96 151.60,406.63 151.86,406.29 152.12,405.96 152.38,405.62 152.65,405.29 152.91,404.95 153.18,404.61 153.45,404.28 153.72,403.94 154.00,403.61 154.28,403.27 154.57,402.94 154.86,402.60 155.16,402.26 155.46,401.93 155.77,401.59 156.08,401.26 156.40,400.92 156.73,400.59 157.05,400.25 157.38,399.91 157.71,399.58 158.04,399.24 158.37,398.91 158.71,398.57 159.04,398.24 159.38,397.90 159.71,397.56 160.04,397.23 160.37,396.89 160.69,396.56 161.01,396.22 161.33,395.88 161.65,395.55 161.96,395.21 162.26,394.88 162.56,394.54 162.85,394.21 163.14,393.87 163.42,393.53 163.68,393.20 163.95,392.86 164.20,392.53 164.45,392.19 164.70,391.86 164.94,391.52 165.18,391.18 165.41,390.85 165.64,390.51 165.86,390.18 166.07,389.84 166.28,389.51 166.48,389.17 166.67,388.83 166.85,388.50 167.03,388.16 167.21,387.83 167.38,387.49 167.54,387.15 167.70,386.82 167.86,386.48 168.01,386.15 168.16,385.81 168.30,385.48 168.43,385.14 168.56,384.80 168.68,384.47 168.80,384.13" fill="none" stroke="#74a857" stroke-width="2.7" stroke-linejoin="round" stroke-linecap="round" />
</g>
<rect x="48.10" y="384.70" width="125.60" height="100.10" fill="none" stroke="#c4c4c4" stroke-width="1.0"/>
<line x1="75.50" y1="484.80" x2="75.50" y2="483.20" stroke="#8a8a8a" stroke-width="0.8" />
<line x1="75.50" y1="384.70" x2="75.50" y2="386.30" stroke="#8a8a8a" stroke-width="0.8" />
<line x1="113.15" y1="484.80" x2="113.15" y2="483.20" stroke="#8a8a8a" stroke-width="0.8" />
<line x1="113.15" y1="384.70" x2="113.15" y2="386.30" stroke="#8a8a8a" stroke-width="0.8" />
<line x1="150.80" y1="484.80" x2="150.80" y2="483.20" stroke="#8a8a8a" stroke-width="0.8" />
<line x1="150.80" y1="384.70" x2="150.80" y2="386.30" stroke="#8a8a8a" stroke-width="0.8" />
<line x1="48.10" y1="476.41" x2="49.70" y2="476.41" stroke="#8a8a8a" stroke-width="0.8" />
<line x1="173.70" y1="476.41" x2="172.10" y2="476.41" stroke="#8a8a8a" stroke-width="0.8" />
<line x1="48.10" y1="466.08" x2="49.70" y2="466.08" stroke="#8a8a8a" stroke-width="0.8" />
<line x1="173.70" y1="466.08" x2="172.10" y2="466.08" stroke="#8a8a8a" stroke-width="0.8" />
<line x1="48.10" y1="451.94" x2="49.70" y2="451.94" stroke="#8a8a8a" stroke-width="0.8" />
<line x1="173.70" y1="451.94" x2="172.10" y2="451.94" stroke="#8a8a8a" stroke-width="0.8" />
<line x1="48.10" y1="434.60" x2="49.70" y2="434.60" stroke="#8a8a8a" stroke-width="0.8" />
<line x1="173.70" y1="434.60" x2="172.10" y2="434.60" stroke="#8a8a8a" stroke-width="0.8" />
<line x1="48.10" y1="417.26" x2="49.70" y2="417.26" stroke="#8a8a8a" stroke-width="0.8" />
<line x1="173.70" y1="417.26" x2="172.10" y2="417.26" stroke="#8a8a8a" stroke-width="0.8" />
<line x1="48.10" y1="403.12" x2="49.70" y2="403.12" stroke="#8a8a8a" stroke-width="0.8" />
<line x1="173.70" y1="403.12" x2="172.10" y2="403.12" stroke="#8a8a8a" stroke-width="0.8" />
<line x1="48.10" y1="392.79" x2="49.70" y2="392.79" stroke="#8a8a8a" stroke-width="0.8" />
<line x1="173.70" y1="392.79" x2="172.10" y2="392.79" stroke="#8a8a8a" stroke-width="0.8" />
<text x="33.40" y="480.01" font-size="10.0" textLength="23.27" lengthAdjust="spacingAndGlyphs" text-anchor="middle" fill="#1c1c1c" style="stroke-width:0.25px">0.001</text>
<text x="33.40" y="469.68" font-size="10.0" textLength="18.10" lengthAdjust="spacingAndGlyphs" text-anchor="middle" fill="#1c1c1c" style="stroke-width:0.25px">0.01</text>
<text x="33.40" y="455.54" font-size="10.0" textLength="12.93" lengthAdjust="spacingAndGlyphs" text-anchor="middle" fill="#1c1c1c" style="stroke-width:0.25px">0.1</text>
<text x="33.40" y="438.20" font-size="10.0" textLength="12.93" lengthAdjust="spacingAndGlyphs" text-anchor="middle" fill="#1c1c1c" style="stroke-width:0.25px">0.5</text>
<text x="33.40" y="420.86" font-size="10.0" textLength="12.93" lengthAdjust="spacingAndGlyphs" text-anchor="middle" fill="#1c1c1c" style="stroke-width:0.25px">0.9</text>
<text x="33.40" y="406.72" font-size="10.0" textLength="18.10" lengthAdjust="spacingAndGlyphs" text-anchor="middle" fill="#1c1c1c" style="stroke-width:0.25px">0.99</text>
<text x="33.40" y="396.39" font-size="10.0" textLength="23.27" lengthAdjust="spacingAndGlyphs" text-anchor="middle" fill="#1c1c1c" style="stroke-width:0.25px">0.999</text>
<text x="75.50" y="497.50" font-size="10.4" textLength="14.13" lengthAdjust="spacingAndGlyphs" text-anchor="middle" fill="#1c1c1c" style="stroke-width:0.25px">-20</text>
<text x="113.15" y="497.50" font-size="10.4" textLength="14.13" lengthAdjust="spacingAndGlyphs" text-anchor="middle" fill="#1c1c1c" style="stroke-width:0.25px">-10</text>
<text x="150.80" y="497.50" font-size="10.4" textLength="5.44" lengthAdjust="spacingAndGlyphs" text-anchor="middle" fill="#1c1c1c" style="stroke-width:0.25px">0</text>
<text x="110.90" y="509.60" font-size="10.5" textLength="97.34" lengthAdjust="spacingAndGlyphs" text-anchor="middle" fill="#1c1c1c" style="stroke-width:0.25px">CM Raw residuals (x)</text>
<text transform="translate(19.4,435.0) rotate(-90)" font-size="10.3" text-anchor="middle" fill="#1c1c1c" style="stroke-width:0.25px">Probability(x)</text>
<rect x="51.20" y="388.4" width="71.90" height="30.5" fill="#fff" stroke="#c8c8c8" stroke-width="0.8"/>
<line x1="52.40" y1="393.80" x2="64.20" y2="393.80" stroke="#c5d6b5" stroke-width="0.7" stroke-dasharray="3 1.5 0.8 1.5"/>
<line x1="52.40" y1="403.20" x2="65.20" y2="403.20" stroke="#c5d6b5" stroke-width="0.8" />
<line x1="58.20" y1="413.10" x2="60.60" y2="413.10" stroke="#c5d6b5" stroke-width="0.8" />
<line x1="59.40" y1="411.90" x2="59.40" y2="414.30" stroke="#c5d6b5" stroke-width="0.8" />
<text x="66.52" y="396.70" font-size="8.6" textLength="55.35" lengthAdjust="spacingAndGlyphs" fill="#1c1c1c" font-family="Liberation Sans" style="stroke-width:0.25px" >x&lt;Q1 or x&gt; Q3</text>
<text x="66.21" y="406.20" font-size="8.6" textLength="37.54" lengthAdjust="spacingAndGlyphs" fill="#1c1c1c" font-family="Liberation Sans" style="stroke-width:0.25px" >Q1&lt;x&lt;Q3</text>
<text x="66.50" y="415.90" font-size="8.6" textLength="4.79" lengthAdjust="spacingAndGlyphs" fill="#1c1c1c" font-family="Liberation Sans" style="stroke-width:0.25px" >x</text>
<text x="92.60" y="527.70" font-size="14.7" textLength="13.37" lengthAdjust="spacingAndGlyphs" text-anchor="middle" font-family="Liberation Serif" font-weight="bold" fill="#1a1a1a" style="stroke:none">(f)</text>
<line x1="251.30" y1="384.70" x2="251.30" y2="484.60" stroke="#ebebeb" stroke-width="0.9" />
<line x1="281.70" y1="384.70" x2="281.70" y2="484.60" stroke="#ebebeb" stroke-width="0.9" />
<line x1="312.10" y1="384.70" x2="312.10" y2="484.60" stroke="#ebebeb" stroke-width="0.9" />
<line x1="342.50" y1="384.70" x2="342.50" y2="484.60" stroke="#ebebeb" stroke-width="0.9" />
<line x1="228.80" y1="476.41" x2="354.60" y2="476.41" stroke="#ebebeb" stroke-width="0.9" />
<line x1="228.80" y1="466.08" x2="354.60" y2="466.08" stroke="#ebebeb" stroke-width="0.9" />
<line x1="228.80" y1="451.94" x2="354.60" y2="451.94" stroke="#ebebeb" stroke-width="0.9" />
<line x1="228.80" y1="434.60" x2="354.60" y2="434.60" stroke="#ebebeb" stroke-width="0.9" />
<line x1="228.80" y1="417.26" x2="354.60" y2="417.26" stroke="#ebebeb" stroke-width="0.9" />
<line x1="228.80" y1="403.12" x2="354.60" y2="403.12" stroke="#ebebeb" stroke-width="0.9" />
<line x1="228.80" y1="392.79" x2="354.60" y2="392.79" stroke="#ebebeb" stroke-width="0.9" />
<clipPath id="c228"><rect x="228.8" y="384.7" width="125.80000000000001" height="99.90000000000003"/></clipPath>
<g clip-path="url(#c228)">
<line x1="266.20" y1="484.60" x2="346.70" y2="384.70" stroke="#9edcc6" stroke-width="0.7" stroke-dasharray="3 1.5 0.8 1.5"/>
<line x1="299.00" y1="443.90" x2="317.00" y2="421.56" stroke="#9edcc6" stroke-width="0.8" />
<polyline points="236.60,484.53 236.64,484.19 236.70,483.85 236.77,483.52 236.84,483.18 236.93,482.85 237.03,482.51 237.13,482.18 237.24,481.84 237.36,481.50 237.49,481.17 237.63,480.83 237.77,480.50 237.92,480.16 238.07,479.83 238.23,479.49 238.40,479.15 238.57,478.82 238.75,478.48 238.92,478.15 239.11,477.81 239.29,477.47 239.48,477.14 239.67,476.80 239.87,476.47 240.07,476.13 240.29,475.80 240.53,475.46 240.79,475.12 241.07,474.79 241.36,474.45 241.67,474.12 241.99,473.78 242.33,473.45 242.67,473.11 243.03,472.77 243.40,472.44 243.78,472.10 244.17,471.77 244.56,471.43 244.96,471.10 245.36,470.76 245.77,470.42 246.18,470.09 246.59,469.75 247.00,469.42 247.41,469.08 247.82,468.74 248.23,468.41 248.63,468.07 249.03,467.74 249.42,467.40 249.81,467.07 250.19,466.73 250.55,466.39 250.91,466.06 251.25,465.72 251.58,465.39 251.89,465.05 252.20,464.72 252.50,464.38 252.81,464.04 253.12,463.71 253.45,463.37 253.79,463.04 254.16,462.70 254.56,462.37 254.99,462.03 255.45,461.69 255.97,461.36 256.57,461.02 257.24,460.69 257.97,460.35 258.76,460.02 259.59,459.68 260.46,459.34 261.35,459.01 262.31,458.67 263.39,458.34 264.59,458.00 265.87,457.66 267.24,457.33 268.68,456.99 270.17,456.66 271.70,456.32 273.26,455.99 274.83,455.65 276.39,455.31 277.94,454.98 279.46,454.64 280.94,454.31 282.36,453.97 283.70,453.64 284.96,453.30 286.13,452.96 287.17,452.63 288.09,452.29 288.87,451.96 289.54,451.62 290.19,451.29 290.80,450.95 291.38,450.61 291.94,450.28 292.47,449.94 292.98,449.61 293.47,449.27 293.94,448.94 294.39,448.60 294.82,448.26 295.24,447.93 295.64,447.59 296.04,447.26 296.43,446.92 296.81,446.58 297.18,446.25 297.56,445.91 297.93,445.58 298.30,445.24 298.66,444.91 299.00,444.57 299.34,444.23 299.66,443.90 299.98,443.56 300.28,443.23 300.59,442.89 300.88,442.56 301.17,442.22 301.46,441.88 301.75,441.55 302.04,441.21 302.33,440.88 302.63,440.54 302.93,440.21 303.23,439.87 303.53,439.53 303.84,439.20 304.15,438.86 304.45,438.53 304.76,438.19 305.06,437.85 305.37,437.52 305.67,437.18 305.97,436.85 306.27,436.51 306.56,436.18 306.86,435.84 307.14,435.50 307.43,435.17 307.71,434.83 307.98,434.50 308.25,434.16 308.52,433.83 308.78,433.49 309.04,433.15 309.30,432.82 309.56,432.48 309.81,432.15 310.06,431.81 310.31,431.48 310.56,431.14 310.80,430.80 311.05,430.47 311.30,430.13 311.55,429.80 311.80,429.46 312.05,429.13 312.30,428.79 312.55,428.45 312.81,428.12 313.06,427.78 313.31,427.45 313.57,427.11 313.82,426.77 314.07,426.44 314.32,426.10 314.57,425.77 314.82,425.43 315.06,425.10 315.31,424.76 315.55,424.42 315.78,424.09 316.02,423.75 316.24,423.42 316.47,423.08 316.69,422.75 316.91,422.41 317.12,422.07 317.34,421.74 317.55,421.40 317.76,421.07 317.96,420.73 318.17,420.40 318.38,420.06 318.59,419.72 318.80,419.39 319.01,419.05 319.23,418.72 319.45,418.38 319.67,418.04 319.89,417.71 320.12,417.37 320.36,417.04 320.59,416.70 320.84,416.37 321.08,416.03 321.33,415.69 321.58,415.36 321.83,415.02 322.09,414.69 322.35,414.35 322.60,414.02 322.86,413.68 323.12,413.34 323.39,413.01 323.65,412.67 323.91,412.34 324.17,412.00 324.42,411.67 324.68,411.33 324.94,410.99 325.19,410.66 325.44,410.32 325.69,409.99 325.94,409.65 326.19,409.32 326.45,408.98 326.70,408.64 326.95,408.31 327.20,407.97 327.45,407.64 327.70,407.30 327.95,406.96 328.20,406.63 328.45,406.29 328.69,405.96 328.94,405.62 329.18,405.29 329.43,404.95 329.67,404.61 329.90,404.28 330.14,403.94 330.37,403.61 330.60,403.27 330.83,402.94 331.06,402.60 331.28,402.26 331.50,401.93 331.72,401.59 331.94,401.26 332.16,400.92 332.38,400.59 332.59,400.25 332.80,399.91 333.02,399.58 333.23,399.24 333.44,398.91 333.65,398.57 333.86,398.24 334.06,397.90 334.27,397.56 334.48,397.23 334.68,396.89 334.89,396.56 335.10,396.22 335.30,395.88 335.51,395.55 335.71,395.21 335.92,394.88 336.12,394.54 336.33,394.21 336.53,393.87 336.74,393.53 336.95,393.20 337.16,392.86 337.36,392.53 337.57,392.19 337.78,391.86 337.99,391.52 338.19,391.18 338.40,390.85 338.61,390.51 338.82,390.18 339.02,389.84 339.23,389.51 339.43,389.17 339.64,388.83 339.85,388.50 340.05,388.16 340.26,387.83 340.46,387.49 340.67,387.15 340.87,386.82 341.07,386.48 341.28,386.15 341.48,385.81 341.69,385.48 341.89,385.14 342.09,384.80 342.30,384.47 342.50,384.13" fill="none" stroke="#1fa67c" stroke-width="2.7" stroke-linejoin="round" stroke-linecap="round" />
</g>
<rect x="228.80" y="384.70" width="125.80" height="99.90" fill="none" stroke="#c4c4c4" stroke-width="1.0"/>
<line x1="251.30" y1="484.60" x2="251.30" y2="483.00" stroke="#8a8a8a" stroke-width="0.8" />
<line x1="251.30" y1="384.70" x2="251.30" y2="386.30" stroke="#8a8a8a" stroke-width="0.8" />
<line x1="281.70" y1="484.60" x2="281.70" y2="483.00" stroke="#8a8a8a" stroke-width="0.8" />
<line x1="281.70" y1="384.70" x2="281.70" y2="386.30" stroke="#8a8a8a" stroke-width="0.8" />
<line x1="312.10" y1="484.60" x2="312.10" y2="483.00" stroke="#8a8a8a" stroke-width="0.8" />
<line x1="312.10" y1="384.70" x2="312.10" y2="386.30" stroke="#8a8a8a" stroke-width="0.8" />
<line x1="342.50" y1="484.60" x2="342.50" y2="483.00" stroke="#8a8a8a" stroke-width="0.8" />
<line x1="342.50" y1="384.70" x2="342.50" y2="386.30" stroke="#8a8a8a" stroke-width="0.8" />
<line x1="228.80" y1="476.41" x2="230.40" y2="476.41" stroke="#8a8a8a" stroke-width="0.8" />
<line x1="354.60" y1="476.41" x2="353.00" y2="476.41" stroke="#8a8a8a" stroke-width="0.8" />
<line x1="228.80" y1="466.08" x2="230.40" y2="466.08" stroke="#8a8a8a" stroke-width="0.8" />
<line x1="354.60" y1="466.08" x2="353.00" y2="466.08" stroke="#8a8a8a" stroke-width="0.8" />
<line x1="228.80" y1="451.94" x2="230.40" y2="451.94" stroke="#8a8a8a" stroke-width="0.8" />
<line x1="354.60" y1="451.94" x2="353.00" y2="451.94" stroke="#8a8a8a" stroke-width="0.8" />
<line x1="228.80" y1="434.60" x2="230.40" y2="434.60" stroke="#8a8a8a" stroke-width="0.8" />
<line x1="354.60" y1="434.60" x2="353.00" y2="434.60" stroke="#8a8a8a" stroke-width="0.8" />
<line x1="228.80" y1="417.26" x2="230.40" y2="417.26" stroke="#8a8a8a" stroke-width="0.8" />
<line x1="354.60" y1="417.26" x2="353.00" y2="417.26" stroke="#8a8a8a" stroke-width="0.8" />
<line x1="228.80" y1="403.12" x2="230.40" y2="403.12" stroke="#8a8a8a" stroke-width="0.8" />
<line x1="354.60" y1="403.12" x2="353.00" y2="403.12" stroke="#8a8a8a" stroke-width="0.8" />
<line x1="228.80" y1="392.79" x2="230.40" y2="392.79" stroke="#8a8a8a" stroke-width="0.8" />
<line x1="354.60" y1="392.79" x2="353.00" y2="392.79" stroke="#8a8a8a" stroke-width="0.8" />
<text x="214.10" y="480.01" font-size="10.0" textLength="23.27" lengthAdjust="spacingAndGlyphs" text-anchor="middle" fill="#1c1c1c" style="stroke-width:0.25px">0.001</text>
<text x="214.10" y="469.68" font-size="10.0" textLength="18.10" lengthAdjust="spacingAndGlyphs" text-anchor="middle" fill="#1c1c1c" style="stroke-width:0.25px">0.01</text>
<text x="214.10" y="455.54" font-size="10.0" textLength="12.93" lengthAdjust="spacingAndGlyphs" text-anchor="middle" fill="#1c1c1c" style="stroke-width:0.25px">0.1</text>
<text x="214.10" y="438.20" font-size="10.0" textLength="12.93" lengthAdjust="spacingAndGlyphs" text-anchor="middle" fill="#1c1c1c" style="stroke-width:0.25px">0.5</text>
<text x="214.10" y="420.86" font-size="10.0" textLength="12.93" lengthAdjust="spacingAndGlyphs" text-anchor="middle" fill="#1c1c1c" style="stroke-width:0.25px">0.9</text>
<text x="214.10" y="406.72" font-size="10.0" textLength="18.10" lengthAdjust="spacingAndGlyphs" text-anchor="middle" fill="#1c1c1c" style="stroke-width:0.25px">0.99</text>
<text x="214.10" y="396.39" font-size="10.0" textLength="23.27" lengthAdjust="spacingAndGlyphs" text-anchor="middle" fill="#1c1c1c" style="stroke-width:0.25px">0.999</text>
<text x="251.30" y="497.50" font-size="10.4" textLength="14.13" lengthAdjust="spacingAndGlyphs" text-anchor="middle" fill="#1c1c1c" style="stroke-width:0.25px">-20</text>
<text x="281.70" y="497.50" font-size="10.4" textLength="14.13" lengthAdjust="spacingAndGlyphs" text-anchor="middle" fill="#1c1c1c" style="stroke-width:0.25px">-10</text>
<text x="312.10" y="497.50" font-size="10.4" textLength="5.44" lengthAdjust="spacingAndGlyphs" text-anchor="middle" fill="#1c1c1c" style="stroke-width:0.25px">0</text>
<text x="342.50" y="497.50" font-size="10.4" textLength="10.87" lengthAdjust="spacingAndGlyphs" text-anchor="middle" fill="#1c1c1c" style="stroke-width:0.25px">10</text>
<text x="291.70" y="509.60" font-size="10.5" textLength="97.34" lengthAdjust="spacingAndGlyphs" text-anchor="middle" fill="#1c1c1c" style="stroke-width:0.25px">CM Raw residuals (x)</text>
<text transform="translate(200.2,435.0) rotate(-90)" font-size="10.3" text-anchor="middle" fill="#1c1c1c" style="stroke-width:0.25px">Probability(x)</text>
<rect x="231.90" y="388.4" width="71.90" height="30.5" fill="#fff" stroke="#c8c8c8" stroke-width="0.8"/>
<line x1="233.10" y1="393.80" x2="244.90" y2="393.80" stroke="#9edcc6" stroke-width="0.7" stroke-dasharray="3 1.5 0.8 1.5"/>
<line x1="233.10" y1="403.20" x2="245.90" y2="403.20" stroke="#9edcc6" stroke-width="0.8" />
<line x1="238.90" y1="413.10" x2="241.30" y2="413.10" stroke="#9edcc6" stroke-width="0.8" />
<line x1="240.10" y1="411.90" x2="240.10" y2="414.30" stroke="#9edcc6" stroke-width="0.8" />
<text x="247.32" y="396.70" font-size="8.6" textLength="55.35" lengthAdjust="spacingAndGlyphs" fill="#1c1c1c" font-family="Liberation Sans" style="stroke-width:0.25px" >x&lt;Q1 or x&gt; Q3</text>
<text x="247.01" y="406.20" font-size="8.6" textLength="37.54" lengthAdjust="spacingAndGlyphs" fill="#1c1c1c" font-family="Liberation Sans" style="stroke-width:0.25px" >Q1&lt;x&lt;Q3</text>
<text x="247.30" y="415.90" font-size="8.6" textLength="4.79" lengthAdjust="spacingAndGlyphs" fill="#1c1c1c" font-family="Liberation Sans" style="stroke-width:0.25px" >x</text>
<text x="273.70" y="527.70" font-size="14.7" textLength="15.60" lengthAdjust="spacingAndGlyphs" text-anchor="middle" font-family="Liberation Serif" font-weight="bold" fill="#1a1a1a" style="stroke:none">(g)</text>
<line x1="433.05" y1="384.70" x2="433.05" y2="484.60" stroke="#ebebeb" stroke-width="0.9" />
<line x1="476.20" y1="384.70" x2="476.20" y2="484.60" stroke="#ebebeb" stroke-width="0.9" />
<line x1="519.35" y1="384.70" x2="519.35" y2="484.60" stroke="#ebebeb" stroke-width="0.9" />
<line x1="409.40" y1="476.41" x2="535.60" y2="476.41" stroke="#ebebeb" stroke-width="0.9" />
<line x1="409.40" y1="466.08" x2="535.60" y2="466.08" stroke="#ebebeb" stroke-width="0.9" />
<line x1="409.40" y1="451.94" x2="535.60" y2="451.94" stroke="#ebebeb" stroke-width="0.9" />
<line x1="409.40" y1="434.60" x2="535.60" y2="434.60" stroke="#ebebeb" stroke-width="0.9" />
<line x1="409.40" y1="417.26" x2="535.60" y2="417.26" stroke="#ebebeb" stroke-width="0.9" />
<line x1="409.40" y1="403.12" x2="535.60" y2="403.12" stroke="#ebebeb" stroke-width="0.9" />
<line x1="409.40" y1="392.79" x2="535.60" y2="392.79" stroke="#ebebeb" stroke-width="0.9" />
<clipPath id="c409"><rect x="409.4" y="384.7" width="126.20000000000005" height="99.90000000000003"/></clipPath>
<g clip-path="url(#c409)">
<line x1="421.40" y1="484.60" x2="521.60" y2="384.70" stroke="#9edcc6" stroke-width="0.7" stroke-dasharray="3 1.5 0.8 1.5"/>
<line x1="459.00" y1="447.11" x2="484.00" y2="422.19" stroke="#9edcc6" stroke-width="0.8" />
<polyline points="425.20,484.53 425.32,484.19 425.44,483.85 425.57,483.52 425.71,483.18 425.86,482.85 426.02,482.51 426.18,482.18 426.34,481.84 426.51,481.50 426.69,481.17 426.87,480.83 427.06,480.50 427.26,480.16 427.46,479.83 427.68,479.49 427.91,479.15 428.15,478.82 428.39,478.48 428.64,478.15 428.90,477.81 429.15,477.47 429.42,477.14 429.68,476.80 429.95,476.47 430.22,476.13 430.50,475.80 430.78,475.46 431.07,475.12 431.36,474.79 431.65,474.45 431.95,474.12 432.26,473.78 432.56,473.45 432.88,473.11 433.19,472.77 433.51,472.44 433.83,472.10 434.15,471.77 434.48,471.43 434.81,471.10 435.14,470.76 435.47,470.42 435.80,470.09 436.14,469.75 436.47,469.42 436.81,469.08 437.14,468.74 437.48,468.41 437.81,468.07 438.15,467.74 438.48,467.40 438.82,467.07 439.15,466.73 439.48,466.39 439.81,466.06 440.14,465.72 440.47,465.39 440.81,465.05 441.14,464.72 441.48,464.38 441.81,464.04 442.15,463.71 442.49,463.37 442.83,463.04 443.17,462.70 443.51,462.37 443.85,462.03 444.19,461.69 444.54,461.36 444.88,461.02 445.23,460.69 445.57,460.35 445.92,460.02 446.26,459.68 446.61,459.34 446.96,459.01 447.30,458.67 447.65,458.34 448.00,458.00 448.35,457.66 448.69,457.33 449.04,456.99 449.39,456.66 449.73,456.32 450.08,455.99 450.42,455.65 450.77,455.31 451.11,454.98 451.46,454.64 451.80,454.31 452.14,453.97 452.49,453.64 452.83,453.30 453.17,452.96 453.51,452.63 453.85,452.29 454.18,451.96 454.52,451.62 454.86,451.29 455.19,450.95 455.53,450.61 455.86,450.28 456.19,449.94 456.53,449.61 456.86,449.27 457.19,448.94 457.52,448.60 457.85,448.26 458.18,447.93 458.51,447.59 458.85,447.26 459.17,446.92 459.50,446.58 459.83,446.25 460.16,445.91 460.49,445.58 460.82,445.24 461.15,444.91 461.48,444.57 461.81,444.23 462.13,443.90 462.46,443.56 462.79,443.23 463.12,442.89 463.45,442.56 463.78,442.22 464.10,441.88 464.43,441.55 464.76,441.21 465.09,440.88 465.42,440.54 465.75,440.21 466.08,439.87 466.41,439.53 466.74,439.20 467.07,438.86 467.40,438.53 467.73,438.19 468.06,437.85 468.39,437.52 468.73,437.18 469.06,436.85 469.39,436.51 469.73,436.18 470.06,435.84 470.39,435.50 470.73,435.17 471.07,434.83 471.40,434.50 471.74,434.16 472.08,433.83 472.42,433.49 472.76,433.15 473.10,432.82 473.44,432.48 473.78,432.15 474.12,431.81 474.47,431.48 474.81,431.14 475.15,430.80 475.50,430.47 475.84,430.13 476.19,429.80 476.53,429.46 476.88,429.13 477.23,428.79 477.57,428.45 477.92,428.12 478.27,427.78 478.61,427.45 478.96,427.11 479.31,426.77 479.65,426.44 480.00,426.10 480.35,425.77 480.69,425.43 481.04,425.10 481.39,424.76 481.73,424.42 482.08,424.09 482.42,423.75 482.77,423.42 483.11,423.08 483.46,422.75 483.80,422.41 484.15,422.07 484.49,421.74 484.83,421.40 485.17,421.07 485.52,420.73 485.86,420.40 486.20,420.06 486.54,419.72 486.87,419.39 487.21,419.05 487.55,418.72 487.89,418.38 488.22,418.04 488.55,417.71 488.89,417.37 489.22,417.04 489.55,416.70 489.88,416.37 490.21,416.03 490.54,415.69 490.87,415.36 491.20,415.02 491.53,414.69 491.86,414.35 492.19,414.02 492.52,413.68 492.85,413.34 493.17,413.01 493.50,412.67 493.83,412.34 494.15,412.00 494.48,411.67 494.80,411.33 495.13,410.99 495.45,410.66 495.78,410.32 496.10,409.99 496.42,409.65 496.74,409.32 497.07,408.98 497.39,408.64 497.71,408.31 498.03,407.97 498.35,407.64 498.67,407.30 498.99,406.96 499.31,406.63 499.62,406.29 499.94,405.96 500.26,405.62 500.58,405.29 500.89,404.95 501.21,404.61 501.52,404.28 501.84,403.94 502.15,403.61 502.47,403.27 502.78,402.94 503.09,402.60 503.40,402.26 503.71,401.93 504.02,401.59 504.32,401.26 504.63,400.92 504.93,400.59 505.23,400.25 505.53,399.91 505.83,399.58 506.13,399.24 506.43,398.91 506.73,398.57 507.03,398.24 507.33,397.90 507.63,397.56 507.93,397.23 508.23,396.89 508.53,396.56 508.83,396.22 509.14,395.88 509.44,395.55 509.75,395.21 510.05,394.88 510.36,394.54 510.67,394.21 510.98,393.87 511.30,393.53 511.61,393.20 511.93,392.86 512.25,392.53 512.57,392.19 512.90,391.86 513.22,391.52 513.55,391.18 513.87,390.85 514.20,390.51 514.53,390.18 514.86,389.84 515.20,389.51 515.53,389.17 515.87,388.83 516.21,388.50 516.55,388.16 516.90,387.83 517.24,387.49 517.59,387.15 517.95,386.82 518.31,386.48 518.67,386.15 519.03,385.81 519.40,385.48 519.77,385.14 520.15,384.80 520.52,384.47 520.90,384.13" fill="none" stroke="#0e9d58" stroke-width="2.7" stroke-linejoin="round" stroke-linecap="round" />
</g>
<rect x="409.40" y="384.70" width="126.20" height="99.90" fill="none" stroke="#c4c4c4" stroke-width="1.0"/>
<line x1="433.05" y1="484.60" x2="433.05" y2="483.00" stroke="#8a8a8a" stroke-width="0.8" />
<line x1="433.05" y1="384.70" x2="433.05" y2="386.30" stroke="#8a8a8a" stroke-width="0.8" />
<line x1="476.20" y1="484.60" x2="476.20" y2="483.00" stroke="#8a8a8a" stroke-width="0.8" />
<line x1="476.20" y1="384.70" x2="476.20" y2="386.30" stroke="#8a8a8a" stroke-width="0.8" />
<line x1="519.35" y1="484.60" x2="519.35" y2="483.00" stroke="#8a8a8a" stroke-width="0.8" />
<line x1="519.35" y1="384.70" x2="519.35" y2="386.30" stroke="#8a8a8a" stroke-width="0.8" />
<line x1="409.40" y1="476.41" x2="411.00" y2="476.41" stroke="#8a8a8a" stroke-width="0.8" />
<line x1="535.60" y1="476.41" x2="534.00" y2="476.41" stroke="#8a8a8a" stroke-width="0.8" />
<line x1="409.40" y1="466.08" x2="411.00" y2="466.08" stroke="#8a8a8a" stroke-width="0.8" />
<line x1="535.60" y1="466.08" x2="534.00" y2="466.08" stroke="#8a8a8a" stroke-width="0.8" />
<line x1="409.40" y1="451.94" x2="411.00" y2="451.94" stroke="#8a8a8a" stroke-width="0.8" />
<line x1="535.60" y1="451.94" x2="534.00" y2="451.94" stroke="#8a8a8a" stroke-width="0.8" />
<line x1="409.40" y1="434.60" x2="411.00" y2="434.60" stroke="#8a8a8a" stroke-width="0.8" />
<line x1="535.60" y1="434.60" x2="534.00" y2="434.60" stroke="#8a8a8a" stroke-width="0.8" />
<line x1="409.40" y1="417.26" x2="411.00" y2="417.26" stroke="#8a8a8a" stroke-width="0.8" />
<line x1="535.60" y1="417.26" x2="534.00" y2="417.26" stroke="#8a8a8a" stroke-width="0.8" />
<line x1="409.40" y1="403.12" x2="411.00" y2="403.12" stroke="#8a8a8a" stroke-width="0.8" />
<line x1="535.60" y1="403.12" x2="534.00" y2="403.12" stroke="#8a8a8a" stroke-width="0.8" />
<line x1="409.40" y1="392.79" x2="411.00" y2="392.79" stroke="#8a8a8a" stroke-width="0.8" />
<line x1="535.60" y1="392.79" x2="534.00" y2="392.79" stroke="#8a8a8a" stroke-width="0.8" />
<text x="394.70" y="480.01" font-size="10.0" textLength="23.27" lengthAdjust="spacingAndGlyphs" text-anchor="middle" fill="#1c1c1c" style="stroke-width:0.25px">0.001</text>
<text x="394.70" y="469.68" font-size="10.0" textLength="18.10" lengthAdjust="spacingAndGlyphs" text-anchor="middle" fill="#1c1c1c" style="stroke-width:0.25px">0.01</text>
<text x="394.70" y="455.54" font-size="10.0" textLength="12.93" lengthAdjust="spacingAndGlyphs" text-anchor="middle" fill="#1c1c1c" style="stroke-width:0.25px">0.1</text>
<text x="394.70" y="438.20" font-size="10.0" textLength="12.93" lengthAdjust="spacingAndGlyphs" text-anchor="middle" fill="#1c1c1c" style="stroke-width:0.25px">0.5</text>
<text x="394.70" y="420.86" font-size="10.0" textLength="12.93" lengthAdjust="spacingAndGlyphs" text-anchor="middle" fill="#1c1c1c" style="stroke-width:0.25px">0.9</text>
<text x="394.70" y="406.72" font-size="10.0" textLength="18.10" lengthAdjust="spacingAndGlyphs" text-anchor="middle" fill="#1c1c1c" style="stroke-width:0.25px">0.99</text>
<text x="394.70" y="396.39" font-size="10.0" textLength="23.27" lengthAdjust="spacingAndGlyphs" text-anchor="middle" fill="#1c1c1c" style="stroke-width:0.25px">0.999</text>
<text x="433.05" y="497.50" font-size="10.4" textLength="14.13" lengthAdjust="spacingAndGlyphs" text-anchor="middle" fill="#1c1c1c" style="stroke-width:0.25px">-10</text>
<text x="476.20" y="497.50" font-size="10.4" textLength="5.44" lengthAdjust="spacingAndGlyphs" text-anchor="middle" fill="#1c1c1c" style="stroke-width:0.25px">0</text>
<text x="519.35" y="497.50" font-size="10.4" textLength="10.87" lengthAdjust="spacingAndGlyphs" text-anchor="middle" fill="#1c1c1c" style="stroke-width:0.25px">10</text>
<text x="472.50" y="509.60" font-size="10.5" textLength="97.34" lengthAdjust="spacingAndGlyphs" text-anchor="middle" fill="#1c1c1c" style="stroke-width:0.25px">CM Raw residuals (x)</text>
<text transform="translate(381.0,435.0) rotate(-90)" font-size="10.3" text-anchor="middle" fill="#1c1c1c" style="stroke-width:0.25px">Probability(x)</text>
<rect x="412.50" y="388.4" width="72.00" height="30.5" fill="#fff" stroke="#c8c8c8" stroke-width="0.8"/>
<line x1="413.70" y1="393.80" x2="425.50" y2="393.80" stroke="#9edcc6" stroke-width="0.7" stroke-dasharray="3 1.5 0.8 1.5"/>
<line x1="413.70" y1="403.20" x2="426.50" y2="403.20" stroke="#9edcc6" stroke-width="0.8" />
<line x1="419.50" y1="413.10" x2="421.90" y2="413.10" stroke="#9edcc6" stroke-width="0.8" />
<line x1="420.70" y1="411.90" x2="420.70" y2="414.30" stroke="#9edcc6" stroke-width="0.8" />
<text x="428.82" y="396.70" font-size="8.6" textLength="55.35" lengthAdjust="spacingAndGlyphs" fill="#1c1c1c" font-family="Liberation Sans" style="stroke-width:0.25px" >x&lt;Q1 or x&gt; Q3</text>
<text x="428.51" y="406.20" font-size="8.6" textLength="37.54" lengthAdjust="spacingAndGlyphs" fill="#1c1c1c" font-family="Liberation Sans" style="stroke-width:0.25px" >Q1&lt;x&lt;Q3</text>
<text x="428.80" y="415.90" font-size="8.6" textLength="4.79" lengthAdjust="spacingAndGlyphs" fill="#1c1c1c" font-family="Liberation Sans" style="stroke-width:0.25px" >x</text>
<text x="454.40" y="527.70" font-size="14.7" textLength="16.35" lengthAdjust="spacingAndGlyphs" text-anchor="middle" font-family="Liberation Serif" font-weight="bold" fill="#1a1a1a" style="stroke:none">(h)</text>
</svg></body></html>
